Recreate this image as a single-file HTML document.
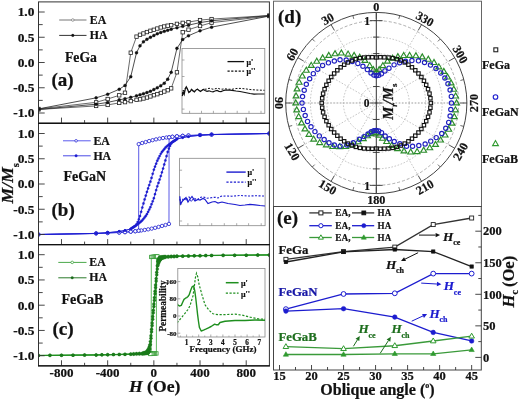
<!DOCTYPE html>
<html><head><meta charset="utf-8"><title>Figure</title>
<style>html,body{margin:0;padding:0;background:#fff;width:520px;height:399px;overflow:hidden}</style>
</head><body>
<svg width="520" height="399" viewBox="0 0 520 399" style="display:block">
<style>text{stroke-width:0.22px;stroke-linejoin:round}text[fill="#111"]{stroke:#111}</style>
<rect x="0" y="0" width="520" height="399" fill="#fff"/>
<clipPath id="cp0"><rect x="38.5" y="1.9" width="230.9" height="121.2"/></clipPath>
<clipPath id="cp1"><rect x="38.5" y="123.4" width="230.9" height="121.2"/></clipPath>
<clipPath id="cp2"><rect x="38.5" y="244.6" width="230.9" height="121.2"/></clipPath>
<g clip-path="url(#cp0)">
<polyline fill="none" stroke="#444" stroke-width="0.8"  points="38.4,108.96 96.12,102.34 107.67,99.01 119.22,95.33 124.99,92.75 130.76,52.7 136.53,36.64 140,34.78 143.46,33.46 146.92,32.05 150.39,30.79 153.85,29.78 157.31,28.56 160.78,27.45 164.24,26.49 167.7,25.69 171.17,25.18 176.94,23.87 182.71,22.86 188.48,22.1 200.03,20.08 211.57,19.07 269.3,15.53"/><polyline fill="none" stroke="#444" stroke-width="0.8"  points="269.3,16.04 211.57,22.66 200.03,25.99 188.48,29.67 182.71,32.25 176.94,72.3 171.17,88.36 167.7,90.22 164.24,91.54 160.78,92.95 157.31,94.21 153.85,95.22 150.39,96.44 146.92,97.55 143.46,98.51 140,99.31 136.53,99.82 130.76,101.13 124.99,102.14 119.22,102.9 107.67,104.92 96.12,105.93 38.4,109.47"/><rect x="36.7" y="107.26" width="3.4" height="3.4" fill="#fff" stroke="#222" stroke-width="0.8"/><rect x="94.42" y="100.64" width="3.4" height="3.4" fill="#fff" stroke="#222" stroke-width="0.8"/><rect x="105.97" y="97.31" width="3.4" height="3.4" fill="#fff" stroke="#222" stroke-width="0.8"/><rect x="117.52" y="93.62" width="3.4" height="3.4" fill="#fff" stroke="#222" stroke-width="0.8"/><rect x="123.29" y="91.05" width="3.4" height="3.4" fill="#fff" stroke="#222" stroke-width="0.8"/><rect x="129.06" y="51" width="3.4" height="3.4" fill="#fff" stroke="#222" stroke-width="0.8"/><rect x="134.83" y="34.94" width="3.4" height="3.4" fill="#fff" stroke="#222" stroke-width="0.8"/><rect x="138.3" y="33.08" width="3.4" height="3.4" fill="#fff" stroke="#222" stroke-width="0.8"/><rect x="141.76" y="31.76" width="3.4" height="3.4" fill="#fff" stroke="#222" stroke-width="0.8"/><rect x="145.22" y="30.35" width="3.4" height="3.4" fill="#fff" stroke="#222" stroke-width="0.8"/><rect x="148.69" y="29.09" width="3.4" height="3.4" fill="#fff" stroke="#222" stroke-width="0.8"/><rect x="152.15" y="28.08" width="3.4" height="3.4" fill="#fff" stroke="#222" stroke-width="0.8"/><rect x="155.61" y="26.86" width="3.4" height="3.4" fill="#fff" stroke="#222" stroke-width="0.8"/><rect x="159.08" y="25.75" width="3.4" height="3.4" fill="#fff" stroke="#222" stroke-width="0.8"/><rect x="162.54" y="24.79" width="3.4" height="3.4" fill="#fff" stroke="#222" stroke-width="0.8"/><rect x="166" y="23.99" width="3.4" height="3.4" fill="#fff" stroke="#222" stroke-width="0.8"/><rect x="169.47" y="23.48" width="3.4" height="3.4" fill="#fff" stroke="#222" stroke-width="0.8"/><rect x="175.24" y="22.17" width="3.4" height="3.4" fill="#fff" stroke="#222" stroke-width="0.8"/><rect x="181.01" y="21.16" width="3.4" height="3.4" fill="#fff" stroke="#222" stroke-width="0.8"/><rect x="186.78" y="20.4" width="3.4" height="3.4" fill="#fff" stroke="#222" stroke-width="0.8"/><rect x="198.33" y="18.38" width="3.4" height="3.4" fill="#fff" stroke="#222" stroke-width="0.8"/><rect x="209.88" y="17.37" width="3.4" height="3.4" fill="#fff" stroke="#222" stroke-width="0.8"/><rect x="267.6" y="13.83" width="3.4" height="3.4" fill="#fff" stroke="#222" stroke-width="0.8"/><rect x="267.6" y="14.34" width="3.4" height="3.4" fill="#fff" stroke="#222" stroke-width="0.8"/><rect x="209.88" y="20.96" width="3.4" height="3.4" fill="#fff" stroke="#222" stroke-width="0.8"/><rect x="198.33" y="24.29" width="3.4" height="3.4" fill="#fff" stroke="#222" stroke-width="0.8"/><rect x="186.78" y="27.97" width="3.4" height="3.4" fill="#fff" stroke="#222" stroke-width="0.8"/><rect x="181.01" y="30.55" width="3.4" height="3.4" fill="#fff" stroke="#222" stroke-width="0.8"/><rect x="175.24" y="70.6" width="3.4" height="3.4" fill="#fff" stroke="#222" stroke-width="0.8"/><rect x="169.47" y="86.66" width="3.4" height="3.4" fill="#fff" stroke="#222" stroke-width="0.8"/><rect x="166" y="88.52" width="3.4" height="3.4" fill="#fff" stroke="#222" stroke-width="0.8"/><rect x="162.54" y="89.84" width="3.4" height="3.4" fill="#fff" stroke="#222" stroke-width="0.8"/><rect x="159.08" y="91.25" width="3.4" height="3.4" fill="#fff" stroke="#222" stroke-width="0.8"/><rect x="155.61" y="92.51" width="3.4" height="3.4" fill="#fff" stroke="#222" stroke-width="0.8"/><rect x="152.15" y="93.52" width="3.4" height="3.4" fill="#fff" stroke="#222" stroke-width="0.8"/><rect x="148.69" y="94.74" width="3.4" height="3.4" fill="#fff" stroke="#222" stroke-width="0.8"/><rect x="145.22" y="95.85" width="3.4" height="3.4" fill="#fff" stroke="#222" stroke-width="0.8"/><rect x="141.76" y="96.81" width="3.4" height="3.4" fill="#fff" stroke="#222" stroke-width="0.8"/><rect x="138.3" y="97.61" width="3.4" height="3.4" fill="#fff" stroke="#222" stroke-width="0.8"/><rect x="134.83" y="98.12" width="3.4" height="3.4" fill="#fff" stroke="#222" stroke-width="0.8"/><rect x="129.06" y="99.43" width="3.4" height="3.4" fill="#fff" stroke="#222" stroke-width="0.8"/><rect x="123.29" y="100.44" width="3.4" height="3.4" fill="#fff" stroke="#222" stroke-width="0.8"/><rect x="117.52" y="101.2" width="3.4" height="3.4" fill="#fff" stroke="#222" stroke-width="0.8"/><rect x="105.97" y="103.22" width="3.4" height="3.4" fill="#fff" stroke="#222" stroke-width="0.8"/><rect x="94.42" y="104.23" width="3.4" height="3.4" fill="#fff" stroke="#222" stroke-width="0.8"/><rect x="36.7" y="107.77" width="3.4" height="3.4" fill="#fff" stroke="#222" stroke-width="0.8"/>
<polyline fill="none" stroke="#222" stroke-width="0.8"  points="38.4,108.96 96.12,97.85 107.67,94.21 119.22,89.27 124.99,85.48 130.76,76.64 136.53,52.7 140,45.84 143.46,41.8 146.92,39.27 150.39,37.25 153.85,35.48 157.31,33.72 160.78,32.45 164.24,31.34 167.7,30.28 171.17,29.17 176.94,27.66 182.71,26.29 188.48,25.13 200.03,22.6 211.57,20.79 269.3,15.53"/><polyline fill="none" stroke="#222" stroke-width="0.8"  points="269.3,16.04 211.57,27.15 200.03,30.79 188.48,35.73 182.71,39.52 176.94,48.36 171.17,72.3 167.7,79.16 164.24,83.2 160.78,85.73 157.31,87.75 153.85,89.52 150.39,91.28 146.92,92.55 143.46,93.66 140,94.72 136.53,95.83 130.76,97.34 124.99,98.71 119.22,99.87 107.67,102.4 96.12,104.21 38.4,109.47"/><circle cx="38.4" cy="108.96" r="1.5" fill="#111" stroke="#111" stroke-width="0.3"/><circle cx="96.12" cy="97.85" r="1.5" fill="#111" stroke="#111" stroke-width="0.3"/><circle cx="107.67" cy="94.21" r="1.5" fill="#111" stroke="#111" stroke-width="0.3"/><circle cx="119.22" cy="89.27" r="1.5" fill="#111" stroke="#111" stroke-width="0.3"/><circle cx="124.99" cy="85.48" r="1.5" fill="#111" stroke="#111" stroke-width="0.3"/><circle cx="130.76" cy="76.64" r="1.5" fill="#111" stroke="#111" stroke-width="0.3"/><circle cx="136.53" cy="52.7" r="1.5" fill="#111" stroke="#111" stroke-width="0.3"/><circle cx="140" cy="45.84" r="1.5" fill="#111" stroke="#111" stroke-width="0.3"/><circle cx="143.46" cy="41.8" r="1.5" fill="#111" stroke="#111" stroke-width="0.3"/><circle cx="146.92" cy="39.27" r="1.5" fill="#111" stroke="#111" stroke-width="0.3"/><circle cx="150.39" cy="37.25" r="1.5" fill="#111" stroke="#111" stroke-width="0.3"/><circle cx="153.85" cy="35.48" r="1.5" fill="#111" stroke="#111" stroke-width="0.3"/><circle cx="157.31" cy="33.72" r="1.5" fill="#111" stroke="#111" stroke-width="0.3"/><circle cx="160.78" cy="32.45" r="1.5" fill="#111" stroke="#111" stroke-width="0.3"/><circle cx="164.24" cy="31.34" r="1.5" fill="#111" stroke="#111" stroke-width="0.3"/><circle cx="167.7" cy="30.28" r="1.5" fill="#111" stroke="#111" stroke-width="0.3"/><circle cx="171.17" cy="29.17" r="1.5" fill="#111" stroke="#111" stroke-width="0.3"/><circle cx="176.94" cy="27.66" r="1.5" fill="#111" stroke="#111" stroke-width="0.3"/><circle cx="182.71" cy="26.29" r="1.5" fill="#111" stroke="#111" stroke-width="0.3"/><circle cx="188.48" cy="25.13" r="1.5" fill="#111" stroke="#111" stroke-width="0.3"/><circle cx="200.03" cy="22.6" r="1.5" fill="#111" stroke="#111" stroke-width="0.3"/><circle cx="211.57" cy="20.79" r="1.5" fill="#111" stroke="#111" stroke-width="0.3"/><circle cx="269.3" cy="15.53" r="1.5" fill="#111" stroke="#111" stroke-width="0.3"/><circle cx="269.3" cy="16.04" r="1.5" fill="#111" stroke="#111" stroke-width="0.3"/><circle cx="211.57" cy="27.15" r="1.5" fill="#111" stroke="#111" stroke-width="0.3"/><circle cx="200.03" cy="30.79" r="1.5" fill="#111" stroke="#111" stroke-width="0.3"/><circle cx="188.48" cy="35.73" r="1.5" fill="#111" stroke="#111" stroke-width="0.3"/><circle cx="182.71" cy="39.52" r="1.5" fill="#111" stroke="#111" stroke-width="0.3"/><circle cx="176.94" cy="48.36" r="1.5" fill="#111" stroke="#111" stroke-width="0.3"/><circle cx="171.17" cy="72.3" r="1.5" fill="#111" stroke="#111" stroke-width="0.3"/><circle cx="167.7" cy="79.16" r="1.5" fill="#111" stroke="#111" stroke-width="0.3"/><circle cx="164.24" cy="83.2" r="1.5" fill="#111" stroke="#111" stroke-width="0.3"/><circle cx="160.78" cy="85.73" r="1.5" fill="#111" stroke="#111" stroke-width="0.3"/><circle cx="157.31" cy="87.75" r="1.5" fill="#111" stroke="#111" stroke-width="0.3"/><circle cx="153.85" cy="89.52" r="1.5" fill="#111" stroke="#111" stroke-width="0.3"/><circle cx="150.39" cy="91.28" r="1.5" fill="#111" stroke="#111" stroke-width="0.3"/><circle cx="146.92" cy="92.55" r="1.5" fill="#111" stroke="#111" stroke-width="0.3"/><circle cx="143.46" cy="93.66" r="1.5" fill="#111" stroke="#111" stroke-width="0.3"/><circle cx="140" cy="94.72" r="1.5" fill="#111" stroke="#111" stroke-width="0.3"/><circle cx="136.53" cy="95.83" r="1.5" fill="#111" stroke="#111" stroke-width="0.3"/><circle cx="130.76" cy="97.34" r="1.5" fill="#111" stroke="#111" stroke-width="0.3"/><circle cx="124.99" cy="98.71" r="1.5" fill="#111" stroke="#111" stroke-width="0.3"/><circle cx="119.22" cy="99.87" r="1.5" fill="#111" stroke="#111" stroke-width="0.3"/><circle cx="107.67" cy="102.4" r="1.5" fill="#111" stroke="#111" stroke-width="0.3"/><circle cx="96.12" cy="104.21" r="1.5" fill="#111" stroke="#111" stroke-width="0.3"/><circle cx="38.4" cy="109.47" r="1.5" fill="#111" stroke="#111" stroke-width="0.3"/>
</g>
<g clip-path="url(#cp1)">
<polyline fill="none" stroke="#3030e0" stroke-width="0.8"  points="38.4,234.5 96.12,233.39 107.67,232.99 119.22,232.48 124.99,232.13 130.76,231.72 135.26,231.22 138.61,230.71 138.73,144.1 142.19,142.99 145.65,142.09 149.12,141.07 152.58,140.17 156.04,139.36 159.51,138.65 162.97,138.05 166.43,137.54 169.09,137.29 172.44,136.78 176.94,136.28 182.71,135.87 188.48,135.52 200.03,135.01 211.57,134.61 269.3,133.5"/><polyline fill="none" stroke="#3030e0" stroke-width="0.8"  points="269.3,133.5 211.57,134.61 200.03,135.01 188.48,135.52 182.71,135.87 176.94,136.28 172.44,136.78 169.09,137.29 168.97,223.9 165.51,225.01 162.05,225.91 158.58,226.93 155.12,227.83 151.66,228.64 148.19,229.35 144.73,229.95 141.27,230.46 138.61,230.71 135.26,231.22 130.76,231.72 124.99,232.13 119.22,232.48 107.67,232.99 96.12,233.39 38.4,234.5"/><circle cx="38.4" cy="234.5" r="1.7" fill="#fff" stroke="#1c1ccf" stroke-width="0.8"/><circle cx="96.12" cy="233.39" r="1.7" fill="#fff" stroke="#1c1ccf" stroke-width="0.8"/><circle cx="107.67" cy="232.99" r="1.7" fill="#fff" stroke="#1c1ccf" stroke-width="0.8"/><circle cx="119.22" cy="232.48" r="1.7" fill="#fff" stroke="#1c1ccf" stroke-width="0.8"/><circle cx="124.99" cy="232.13" r="1.7" fill="#fff" stroke="#1c1ccf" stroke-width="0.8"/><circle cx="130.76" cy="231.72" r="1.7" fill="#fff" stroke="#1c1ccf" stroke-width="0.8"/><circle cx="135.26" cy="231.22" r="1.7" fill="#fff" stroke="#1c1ccf" stroke-width="0.8"/><circle cx="138.61" cy="230.71" r="1.7" fill="#fff" stroke="#1c1ccf" stroke-width="0.8"/><circle cx="138.73" cy="144.1" r="1.7" fill="#fff" stroke="#1c1ccf" stroke-width="0.8"/><circle cx="142.19" cy="142.99" r="1.7" fill="#fff" stroke="#1c1ccf" stroke-width="0.8"/><circle cx="145.65" cy="142.09" r="1.7" fill="#fff" stroke="#1c1ccf" stroke-width="0.8"/><circle cx="149.12" cy="141.07" r="1.7" fill="#fff" stroke="#1c1ccf" stroke-width="0.8"/><circle cx="152.58" cy="140.17" r="1.7" fill="#fff" stroke="#1c1ccf" stroke-width="0.8"/><circle cx="156.04" cy="139.36" r="1.7" fill="#fff" stroke="#1c1ccf" stroke-width="0.8"/><circle cx="159.51" cy="138.65" r="1.7" fill="#fff" stroke="#1c1ccf" stroke-width="0.8"/><circle cx="162.97" cy="138.05" r="1.7" fill="#fff" stroke="#1c1ccf" stroke-width="0.8"/><circle cx="166.43" cy="137.54" r="1.7" fill="#fff" stroke="#1c1ccf" stroke-width="0.8"/><circle cx="169.09" cy="137.29" r="1.7" fill="#fff" stroke="#1c1ccf" stroke-width="0.8"/><circle cx="172.44" cy="136.78" r="1.7" fill="#fff" stroke="#1c1ccf" stroke-width="0.8"/><circle cx="176.94" cy="136.28" r="1.7" fill="#fff" stroke="#1c1ccf" stroke-width="0.8"/><circle cx="182.71" cy="135.87" r="1.7" fill="#fff" stroke="#1c1ccf" stroke-width="0.8"/><circle cx="188.48" cy="135.52" r="1.7" fill="#fff" stroke="#1c1ccf" stroke-width="0.8"/><circle cx="200.03" cy="135.01" r="1.7" fill="#fff" stroke="#1c1ccf" stroke-width="0.8"/><circle cx="211.57" cy="134.61" r="1.7" fill="#fff" stroke="#1c1ccf" stroke-width="0.8"/><circle cx="269.3" cy="133.5" r="1.7" fill="#fff" stroke="#1c1ccf" stroke-width="0.8"/><circle cx="269.3" cy="133.5" r="1.7" fill="#fff" stroke="#1c1ccf" stroke-width="0.8"/><circle cx="211.57" cy="134.61" r="1.7" fill="#fff" stroke="#1c1ccf" stroke-width="0.8"/><circle cx="200.03" cy="135.01" r="1.7" fill="#fff" stroke="#1c1ccf" stroke-width="0.8"/><circle cx="188.48" cy="135.52" r="1.7" fill="#fff" stroke="#1c1ccf" stroke-width="0.8"/><circle cx="182.71" cy="135.87" r="1.7" fill="#fff" stroke="#1c1ccf" stroke-width="0.8"/><circle cx="176.94" cy="136.28" r="1.7" fill="#fff" stroke="#1c1ccf" stroke-width="0.8"/><circle cx="172.44" cy="136.78" r="1.7" fill="#fff" stroke="#1c1ccf" stroke-width="0.8"/><circle cx="169.09" cy="137.29" r="1.7" fill="#fff" stroke="#1c1ccf" stroke-width="0.8"/><circle cx="168.97" cy="223.9" r="1.7" fill="#fff" stroke="#1c1ccf" stroke-width="0.8"/><circle cx="165.51" cy="225.01" r="1.7" fill="#fff" stroke="#1c1ccf" stroke-width="0.8"/><circle cx="162.05" cy="225.91" r="1.7" fill="#fff" stroke="#1c1ccf" stroke-width="0.8"/><circle cx="158.58" cy="226.93" r="1.7" fill="#fff" stroke="#1c1ccf" stroke-width="0.8"/><circle cx="155.12" cy="227.83" r="1.7" fill="#fff" stroke="#1c1ccf" stroke-width="0.8"/><circle cx="151.66" cy="228.64" r="1.7" fill="#fff" stroke="#1c1ccf" stroke-width="0.8"/><circle cx="148.19" cy="229.35" r="1.7" fill="#fff" stroke="#1c1ccf" stroke-width="0.8"/><circle cx="144.73" cy="229.95" r="1.7" fill="#fff" stroke="#1c1ccf" stroke-width="0.8"/><circle cx="141.27" cy="230.46" r="1.7" fill="#fff" stroke="#1c1ccf" stroke-width="0.8"/><circle cx="138.61" cy="230.71" r="1.7" fill="#fff" stroke="#1c1ccf" stroke-width="0.8"/><circle cx="135.26" cy="231.22" r="1.7" fill="#fff" stroke="#1c1ccf" stroke-width="0.8"/><circle cx="130.76" cy="231.72" r="1.7" fill="#fff" stroke="#1c1ccf" stroke-width="0.8"/><circle cx="124.99" cy="232.13" r="1.7" fill="#fff" stroke="#1c1ccf" stroke-width="0.8"/><circle cx="119.22" cy="232.48" r="1.7" fill="#fff" stroke="#1c1ccf" stroke-width="0.8"/><circle cx="107.67" cy="232.99" r="1.7" fill="#fff" stroke="#1c1ccf" stroke-width="0.8"/><circle cx="96.12" cy="233.39" r="1.7" fill="#fff" stroke="#1c1ccf" stroke-width="0.8"/><circle cx="38.4" cy="234.5" r="1.7" fill="#fff" stroke="#1c1ccf" stroke-width="0.8"/>
<polyline fill="none" stroke="#1c1ccf" stroke-width="0.8"  points="38.4,234.5 96.12,233.49 107.67,232.73 119.22,231.47 124.99,230.46 130.76,228.94 131.91,228.16 133.07,227.37 134.22,226.59 135.38,225.8 136.53,224.33 137.69,222.11 138.84,219.44 140,216.1 141.15,211.78 142.31,207.53 143.46,203.49 144.61,199.45 145.77,195.66 146.92,191.93 148.08,188.39 149.23,185.06 150.39,181.72 151.54,177.88 152.7,173.82 153.85,169.76 155,166.69 156.16,163.73 157.31,160.76 158.47,158.41 159.62,156.12 160.78,153.83 161.93,151.98 163.09,150.55 164.24,149.13 165.39,147.7 166.55,146.58 167.7,145.65 168.86,144.72 170.01,143.8 171.17,142.87 172.32,142.06 173.48,141.31 174.63,140.56 175.79,139.81 176.94,139.06 182.71,137.54 188.48,136.53 200.03,135.27 211.57,134.51 269.3,133.5"/><polyline fill="none" stroke="#1c1ccf" stroke-width="0.8"  points="269.3,133.5 211.57,134.51 200.03,135.27 188.48,136.53 182.71,137.54 176.94,139.06 175.79,139.84 174.63,140.63 173.48,141.41 172.32,142.2 171.17,143.67 170.01,145.89 168.86,148.56 167.7,151.9 166.55,156.22 165.39,160.47 164.24,164.51 163.09,168.55 161.93,172.34 160.78,176.07 159.62,179.61 158.47,182.94 157.31,186.28 156.16,190.12 155,194.18 153.85,198.24 152.7,201.31 151.54,204.27 150.39,207.24 149.23,209.59 148.08,211.88 146.92,214.17 145.77,216.02 144.61,217.45 143.46,218.87 142.31,220.3 141.15,221.42 140,222.35 138.84,223.28 137.69,224.2 136.53,225.13 135.38,225.94 134.22,226.69 133.07,227.44 131.91,228.19 130.76,228.94 124.99,230.46 119.22,231.47 107.67,232.73 96.12,233.49 38.4,234.5"/><circle cx="38.4" cy="234.5" r="1.15" fill="#1c1ccf" stroke="#1c1ccf" stroke-width="0.3"/><circle cx="96.12" cy="233.49" r="1.15" fill="#1c1ccf" stroke="#1c1ccf" stroke-width="0.3"/><circle cx="107.67" cy="232.73" r="1.15" fill="#1c1ccf" stroke="#1c1ccf" stroke-width="0.3"/><circle cx="119.22" cy="231.47" r="1.15" fill="#1c1ccf" stroke="#1c1ccf" stroke-width="0.3"/><circle cx="124.99" cy="230.46" r="1.15" fill="#1c1ccf" stroke="#1c1ccf" stroke-width="0.3"/><circle cx="130.76" cy="228.94" r="1.15" fill="#1c1ccf" stroke="#1c1ccf" stroke-width="0.3"/><circle cx="131.91" cy="228.16" r="1.15" fill="#1c1ccf" stroke="#1c1ccf" stroke-width="0.3"/><circle cx="133.07" cy="227.37" r="1.15" fill="#1c1ccf" stroke="#1c1ccf" stroke-width="0.3"/><circle cx="134.22" cy="226.59" r="1.15" fill="#1c1ccf" stroke="#1c1ccf" stroke-width="0.3"/><circle cx="135.38" cy="225.8" r="1.15" fill="#1c1ccf" stroke="#1c1ccf" stroke-width="0.3"/><circle cx="136.53" cy="224.33" r="1.15" fill="#1c1ccf" stroke="#1c1ccf" stroke-width="0.3"/><circle cx="137.69" cy="222.11" r="1.15" fill="#1c1ccf" stroke="#1c1ccf" stroke-width="0.3"/><circle cx="138.84" cy="219.44" r="1.15" fill="#1c1ccf" stroke="#1c1ccf" stroke-width="0.3"/><circle cx="140" cy="216.1" r="1.15" fill="#1c1ccf" stroke="#1c1ccf" stroke-width="0.3"/><circle cx="141.15" cy="211.78" r="1.15" fill="#1c1ccf" stroke="#1c1ccf" stroke-width="0.3"/><circle cx="142.31" cy="207.53" r="1.15" fill="#1c1ccf" stroke="#1c1ccf" stroke-width="0.3"/><circle cx="143.46" cy="203.49" r="1.15" fill="#1c1ccf" stroke="#1c1ccf" stroke-width="0.3"/><circle cx="144.61" cy="199.45" r="1.15" fill="#1c1ccf" stroke="#1c1ccf" stroke-width="0.3"/><circle cx="145.77" cy="195.66" r="1.15" fill="#1c1ccf" stroke="#1c1ccf" stroke-width="0.3"/><circle cx="146.92" cy="191.93" r="1.15" fill="#1c1ccf" stroke="#1c1ccf" stroke-width="0.3"/><circle cx="148.08" cy="188.39" r="1.15" fill="#1c1ccf" stroke="#1c1ccf" stroke-width="0.3"/><circle cx="149.23" cy="185.06" r="1.15" fill="#1c1ccf" stroke="#1c1ccf" stroke-width="0.3"/><circle cx="150.39" cy="181.72" r="1.15" fill="#1c1ccf" stroke="#1c1ccf" stroke-width="0.3"/><circle cx="151.54" cy="177.88" r="1.15" fill="#1c1ccf" stroke="#1c1ccf" stroke-width="0.3"/><circle cx="152.7" cy="173.82" r="1.15" fill="#1c1ccf" stroke="#1c1ccf" stroke-width="0.3"/><circle cx="153.85" cy="169.76" r="1.15" fill="#1c1ccf" stroke="#1c1ccf" stroke-width="0.3"/><circle cx="155" cy="166.69" r="1.15" fill="#1c1ccf" stroke="#1c1ccf" stroke-width="0.3"/><circle cx="156.16" cy="163.73" r="1.15" fill="#1c1ccf" stroke="#1c1ccf" stroke-width="0.3"/><circle cx="157.31" cy="160.76" r="1.15" fill="#1c1ccf" stroke="#1c1ccf" stroke-width="0.3"/><circle cx="158.47" cy="158.41" r="1.15" fill="#1c1ccf" stroke="#1c1ccf" stroke-width="0.3"/><circle cx="159.62" cy="156.12" r="1.15" fill="#1c1ccf" stroke="#1c1ccf" stroke-width="0.3"/><circle cx="160.78" cy="153.83" r="1.15" fill="#1c1ccf" stroke="#1c1ccf" stroke-width="0.3"/><circle cx="161.93" cy="151.98" r="1.15" fill="#1c1ccf" stroke="#1c1ccf" stroke-width="0.3"/><circle cx="163.09" cy="150.55" r="1.15" fill="#1c1ccf" stroke="#1c1ccf" stroke-width="0.3"/><circle cx="164.24" cy="149.13" r="1.15" fill="#1c1ccf" stroke="#1c1ccf" stroke-width="0.3"/><circle cx="165.39" cy="147.7" r="1.15" fill="#1c1ccf" stroke="#1c1ccf" stroke-width="0.3"/><circle cx="166.55" cy="146.58" r="1.15" fill="#1c1ccf" stroke="#1c1ccf" stroke-width="0.3"/><circle cx="167.7" cy="145.65" r="1.15" fill="#1c1ccf" stroke="#1c1ccf" stroke-width="0.3"/><circle cx="168.86" cy="144.72" r="1.15" fill="#1c1ccf" stroke="#1c1ccf" stroke-width="0.3"/><circle cx="170.01" cy="143.8" r="1.15" fill="#1c1ccf" stroke="#1c1ccf" stroke-width="0.3"/><circle cx="171.17" cy="142.87" r="1.15" fill="#1c1ccf" stroke="#1c1ccf" stroke-width="0.3"/><circle cx="172.32" cy="142.06" r="1.15" fill="#1c1ccf" stroke="#1c1ccf" stroke-width="0.3"/><circle cx="173.48" cy="141.31" r="1.15" fill="#1c1ccf" stroke="#1c1ccf" stroke-width="0.3"/><circle cx="174.63" cy="140.56" r="1.15" fill="#1c1ccf" stroke="#1c1ccf" stroke-width="0.3"/><circle cx="175.79" cy="139.81" r="1.15" fill="#1c1ccf" stroke="#1c1ccf" stroke-width="0.3"/><circle cx="176.94" cy="139.06" r="1.15" fill="#1c1ccf" stroke="#1c1ccf" stroke-width="0.3"/><circle cx="182.71" cy="137.54" r="1.15" fill="#1c1ccf" stroke="#1c1ccf" stroke-width="0.3"/><circle cx="188.48" cy="136.53" r="1.15" fill="#1c1ccf" stroke="#1c1ccf" stroke-width="0.3"/><circle cx="200.03" cy="135.27" r="1.15" fill="#1c1ccf" stroke="#1c1ccf" stroke-width="0.3"/><circle cx="211.57" cy="134.51" r="1.15" fill="#1c1ccf" stroke="#1c1ccf" stroke-width="0.3"/><circle cx="269.3" cy="133.5" r="1.15" fill="#1c1ccf" stroke="#1c1ccf" stroke-width="0.3"/><circle cx="269.3" cy="133.5" r="1.15" fill="#1c1ccf" stroke="#1c1ccf" stroke-width="0.3"/><circle cx="211.57" cy="134.51" r="1.15" fill="#1c1ccf" stroke="#1c1ccf" stroke-width="0.3"/><circle cx="200.03" cy="135.27" r="1.15" fill="#1c1ccf" stroke="#1c1ccf" stroke-width="0.3"/><circle cx="188.48" cy="136.53" r="1.15" fill="#1c1ccf" stroke="#1c1ccf" stroke-width="0.3"/><circle cx="182.71" cy="137.54" r="1.15" fill="#1c1ccf" stroke="#1c1ccf" stroke-width="0.3"/><circle cx="176.94" cy="139.06" r="1.15" fill="#1c1ccf" stroke="#1c1ccf" stroke-width="0.3"/><circle cx="175.79" cy="139.84" r="1.15" fill="#1c1ccf" stroke="#1c1ccf" stroke-width="0.3"/><circle cx="174.63" cy="140.63" r="1.15" fill="#1c1ccf" stroke="#1c1ccf" stroke-width="0.3"/><circle cx="173.48" cy="141.41" r="1.15" fill="#1c1ccf" stroke="#1c1ccf" stroke-width="0.3"/><circle cx="172.32" cy="142.2" r="1.15" fill="#1c1ccf" stroke="#1c1ccf" stroke-width="0.3"/><circle cx="171.17" cy="143.67" r="1.15" fill="#1c1ccf" stroke="#1c1ccf" stroke-width="0.3"/><circle cx="170.01" cy="145.89" r="1.15" fill="#1c1ccf" stroke="#1c1ccf" stroke-width="0.3"/><circle cx="168.86" cy="148.56" r="1.15" fill="#1c1ccf" stroke="#1c1ccf" stroke-width="0.3"/><circle cx="167.7" cy="151.9" r="1.15" fill="#1c1ccf" stroke="#1c1ccf" stroke-width="0.3"/><circle cx="166.55" cy="156.22" r="1.15" fill="#1c1ccf" stroke="#1c1ccf" stroke-width="0.3"/><circle cx="165.39" cy="160.47" r="1.15" fill="#1c1ccf" stroke="#1c1ccf" stroke-width="0.3"/><circle cx="164.24" cy="164.51" r="1.15" fill="#1c1ccf" stroke="#1c1ccf" stroke-width="0.3"/><circle cx="163.09" cy="168.55" r="1.15" fill="#1c1ccf" stroke="#1c1ccf" stroke-width="0.3"/><circle cx="161.93" cy="172.34" r="1.15" fill="#1c1ccf" stroke="#1c1ccf" stroke-width="0.3"/><circle cx="160.78" cy="176.07" r="1.15" fill="#1c1ccf" stroke="#1c1ccf" stroke-width="0.3"/><circle cx="159.62" cy="179.61" r="1.15" fill="#1c1ccf" stroke="#1c1ccf" stroke-width="0.3"/><circle cx="158.47" cy="182.94" r="1.15" fill="#1c1ccf" stroke="#1c1ccf" stroke-width="0.3"/><circle cx="157.31" cy="186.28" r="1.15" fill="#1c1ccf" stroke="#1c1ccf" stroke-width="0.3"/><circle cx="156.16" cy="190.12" r="1.15" fill="#1c1ccf" stroke="#1c1ccf" stroke-width="0.3"/><circle cx="155" cy="194.18" r="1.15" fill="#1c1ccf" stroke="#1c1ccf" stroke-width="0.3"/><circle cx="153.85" cy="198.24" r="1.15" fill="#1c1ccf" stroke="#1c1ccf" stroke-width="0.3"/><circle cx="152.7" cy="201.31" r="1.15" fill="#1c1ccf" stroke="#1c1ccf" stroke-width="0.3"/><circle cx="151.54" cy="204.27" r="1.15" fill="#1c1ccf" stroke="#1c1ccf" stroke-width="0.3"/><circle cx="150.39" cy="207.24" r="1.15" fill="#1c1ccf" stroke="#1c1ccf" stroke-width="0.3"/><circle cx="149.23" cy="209.59" r="1.15" fill="#1c1ccf" stroke="#1c1ccf" stroke-width="0.3"/><circle cx="148.08" cy="211.88" r="1.15" fill="#1c1ccf" stroke="#1c1ccf" stroke-width="0.3"/><circle cx="146.92" cy="214.17" r="1.15" fill="#1c1ccf" stroke="#1c1ccf" stroke-width="0.3"/><circle cx="145.77" cy="216.02" r="1.15" fill="#1c1ccf" stroke="#1c1ccf" stroke-width="0.3"/><circle cx="144.61" cy="217.45" r="1.15" fill="#1c1ccf" stroke="#1c1ccf" stroke-width="0.3"/><circle cx="143.46" cy="218.87" r="1.15" fill="#1c1ccf" stroke="#1c1ccf" stroke-width="0.3"/><circle cx="142.31" cy="220.3" r="1.15" fill="#1c1ccf" stroke="#1c1ccf" stroke-width="0.3"/><circle cx="141.15" cy="221.42" r="1.15" fill="#1c1ccf" stroke="#1c1ccf" stroke-width="0.3"/><circle cx="140" cy="222.35" r="1.15" fill="#1c1ccf" stroke="#1c1ccf" stroke-width="0.3"/><circle cx="138.84" cy="223.28" r="1.15" fill="#1c1ccf" stroke="#1c1ccf" stroke-width="0.3"/><circle cx="137.69" cy="224.2" r="1.15" fill="#1c1ccf" stroke="#1c1ccf" stroke-width="0.3"/><circle cx="136.53" cy="225.13" r="1.15" fill="#1c1ccf" stroke="#1c1ccf" stroke-width="0.3"/><circle cx="135.38" cy="225.94" r="1.15" fill="#1c1ccf" stroke="#1c1ccf" stroke-width="0.3"/><circle cx="134.22" cy="226.69" r="1.15" fill="#1c1ccf" stroke="#1c1ccf" stroke-width="0.3"/><circle cx="133.07" cy="227.44" r="1.15" fill="#1c1ccf" stroke="#1c1ccf" stroke-width="0.3"/><circle cx="131.91" cy="228.19" r="1.15" fill="#1c1ccf" stroke="#1c1ccf" stroke-width="0.3"/><circle cx="130.76" cy="228.94" r="1.15" fill="#1c1ccf" stroke="#1c1ccf" stroke-width="0.3"/><circle cx="124.99" cy="230.46" r="1.15" fill="#1c1ccf" stroke="#1c1ccf" stroke-width="0.3"/><circle cx="119.22" cy="231.47" r="1.15" fill="#1c1ccf" stroke="#1c1ccf" stroke-width="0.3"/><circle cx="107.67" cy="232.73" r="1.15" fill="#1c1ccf" stroke="#1c1ccf" stroke-width="0.3"/><circle cx="96.12" cy="233.49" r="1.15" fill="#1c1ccf" stroke="#1c1ccf" stroke-width="0.3"/><circle cx="38.4" cy="234.5" r="1.15" fill="#1c1ccf" stroke="#1c1ccf" stroke-width="0.3"/>
</g>
<g clip-path="url(#cp2)">
<polyline fill="none" stroke="#3aa83a" stroke-width="0.8"  points="38.4,355.45 49.94,355.35 61.49,355.19 73.03,355.09 84.58,354.94 96.12,354.79 101.9,354.69 107.67,354.59 113.44,354.44 119.22,354.29 124.99,354.19 130.76,354.03 136.53,353.83 142.31,353.68 146.92,353.58 150.39,353.48 151.19,353.43 151.31,256.97 152.7,256.82 153.85,256.72 155,256.62 156.16,256.52 157.31,256.42 160.78,256.32 165.39,256.21 171.17,256.06 176.94,255.96 182.71,255.86 188.48,255.71 194.26,255.61 200.03,255.51 205.8,255.41 211.57,255.31 223.12,255.2 234.66,255.1 246.21,255 257.75,254.9 269.3,254.8"/><polyline fill="none" stroke="#3aa83a" stroke-width="0.8"  points="269.3,254.95 257.75,255.05 246.21,255.2 234.66,255.31 223.12,255.46 211.57,255.61 205.8,255.71 200.03,255.81 194.26,255.96 188.48,256.11 182.71,256.21 176.94,256.37 171.17,256.57 165.39,256.72 160.78,256.82 157.31,256.92 156.51,256.97 156.39,353.43 155,353.58 153.85,353.68 152.7,353.78 151.54,353.88 150.39,353.98 146.92,354.08 142.31,354.19 136.53,354.34 130.76,354.44 124.99,354.54 119.22,354.69 113.44,354.79 107.67,354.89 101.9,354.99 96.12,355.09 84.58,355.19 73.03,355.3 61.49,355.4 49.94,355.5 38.4,355.6"/>
<rect x="148.69" y="351.78" width="3.4" height="3.4" fill="#fff" stroke="#2f9a2f" stroke-width="0.8"/>
<rect x="155.61" y="255.22" width="3.4" height="3.4" fill="#fff" stroke="#2f9a2f" stroke-width="0.8"/>
<rect x="149.49" y="351.73" width="3.4" height="3.4" fill="#fff" stroke="#2f9a2f" stroke-width="0.8"/>
<rect x="154.81" y="255.27" width="3.4" height="3.4" fill="#fff" stroke="#2f9a2f" stroke-width="0.8"/>
<rect x="149.61" y="255.27" width="3.4" height="3.4" fill="#fff" stroke="#2f9a2f" stroke-width="0.8"/>
<rect x="154.69" y="351.73" width="3.4" height="3.4" fill="#fff" stroke="#2f9a2f" stroke-width="0.8"/>
<rect x="151" y="255.12" width="3.4" height="3.4" fill="#fff" stroke="#2f9a2f" stroke-width="0.8"/>
<rect x="153.3" y="351.88" width="3.4" height="3.4" fill="#fff" stroke="#2f9a2f" stroke-width="0.8"/>
<rect x="152.15" y="255.02" width="3.4" height="3.4" fill="#fff" stroke="#2f9a2f" stroke-width="0.8"/>
<rect x="152.15" y="351.98" width="3.4" height="3.4" fill="#fff" stroke="#2f9a2f" stroke-width="0.8"/>
<rect x="153.3" y="254.92" width="3.4" height="3.4" fill="#fff" stroke="#2f9a2f" stroke-width="0.8"/>
<rect x="151" y="352.08" width="3.4" height="3.4" fill="#fff" stroke="#2f9a2f" stroke-width="0.8"/>
<rect x="154.46" y="254.82" width="3.4" height="3.4" fill="#fff" stroke="#2f9a2f" stroke-width="0.8"/>
<rect x="149.84" y="352.18" width="3.4" height="3.4" fill="#fff" stroke="#2f9a2f" stroke-width="0.8"/>
<rect x="155.61" y="254.72" width="3.4" height="3.4" fill="#fff" stroke="#2f9a2f" stroke-width="0.8"/>
<rect x="148.69" y="352.28" width="3.4" height="3.4" fill="#fff" stroke="#2f9a2f" stroke-width="0.8"/>
<polyline fill="none" stroke="#1f8f1f" stroke-width="0.9"  points="38.4,355.45 49.94,355.35 61.49,355.25 73.03,355.14 84.58,355.04 96.12,354.94 101.9,354.82 107.67,354.69 113.44,354.56 119.22,354.44 124.99,354.19 130.76,353.93 133.65,353.74 136.53,353.55 139.42,353.36 142.31,353.17 143.46,352.84 144.61,352.5 145.77,352.16 146.92,351.15 147.5,350.65 148.08,349.64 148.65,348.63 149.23,346.95 149.81,344.9 150.39,341.4 150.96,335.63 151.54,329.28 152.12,322.94 152.7,316.6 153.27,310.25 153.85,303.91 154.43,297.57 155,291.22 155.58,284.88 156.16,278.54 156.74,272.19 157.31,265.85 157.89,261.35 158.47,259.25 159.05,257.98 159.62,257.6 160.2,257.23 160.78,257.09 161.93,256.82 163.09,256.7 164.24,256.59 165.39,256.47 168.28,256.38 171.17,256.29 174.05,256.2 176.94,256.11 182.71,256 188.48,255.9 194.26,255.79 200.03,255.68 205.8,255.57 211.57,255.46 223.12,255.36 234.66,255.26 246.21,255.15 257.75,255.05 269.3,254.95"/><polyline fill="none" stroke="#1f8f1f" stroke-width="0.9"  points="269.3,254.95 257.75,255.05 246.21,255.15 234.66,255.26 223.12,255.36 211.57,255.46 205.8,255.58 200.03,255.71 194.26,255.84 188.48,255.96 182.71,256.21 176.94,256.47 174.05,256.66 171.17,256.85 168.28,257.04 165.39,257.23 164.24,257.56 163.09,257.9 161.93,258.24 160.78,259.25 160.2,259.75 159.62,260.76 159.05,261.77 158.47,263.45 157.89,265.5 157.31,269 156.74,274.77 156.16,281.12 155.58,287.46 155,293.8 154.43,300.15 153.85,306.49 153.27,312.83 152.7,319.18 152.12,325.52 151.54,331.86 150.96,338.21 150.39,344.55 149.81,349.05 149.23,351.15 148.65,352.42 148.08,352.8 147.5,353.17 146.92,353.31 145.77,353.58 144.61,353.7 143.46,353.81 142.31,353.93 139.42,354.02 136.53,354.11 133.65,354.2 130.76,354.29 124.99,354.4 119.22,354.5 113.44,354.61 107.67,354.72 101.9,354.83 96.12,354.94 84.58,355.04 73.03,355.14 61.49,355.25 49.94,355.35 38.4,355.45"/><circle cx="38.4" cy="355.45" r="1.5" fill="#1a7a1a" stroke="#1a7a1a" stroke-width="0.3"/><circle cx="49.94" cy="355.35" r="1.5" fill="#1a7a1a" stroke="#1a7a1a" stroke-width="0.3"/><circle cx="61.49" cy="355.25" r="1.5" fill="#1a7a1a" stroke="#1a7a1a" stroke-width="0.3"/><circle cx="73.03" cy="355.14" r="1.5" fill="#1a7a1a" stroke="#1a7a1a" stroke-width="0.3"/><circle cx="84.58" cy="355.04" r="1.5" fill="#1a7a1a" stroke="#1a7a1a" stroke-width="0.3"/><circle cx="96.12" cy="354.94" r="1.5" fill="#1a7a1a" stroke="#1a7a1a" stroke-width="0.3"/><circle cx="101.9" cy="354.82" r="1.5" fill="#1a7a1a" stroke="#1a7a1a" stroke-width="0.3"/><circle cx="107.67" cy="354.69" r="1.5" fill="#1a7a1a" stroke="#1a7a1a" stroke-width="0.3"/><circle cx="113.44" cy="354.56" r="1.5" fill="#1a7a1a" stroke="#1a7a1a" stroke-width="0.3"/><circle cx="119.22" cy="354.44" r="1.5" fill="#1a7a1a" stroke="#1a7a1a" stroke-width="0.3"/><circle cx="124.99" cy="354.19" r="1.5" fill="#1a7a1a" stroke="#1a7a1a" stroke-width="0.3"/><circle cx="130.76" cy="353.93" r="1.5" fill="#1a7a1a" stroke="#1a7a1a" stroke-width="0.3"/><circle cx="133.65" cy="353.74" r="1.5" fill="#1a7a1a" stroke="#1a7a1a" stroke-width="0.3"/><circle cx="136.53" cy="353.55" r="1.5" fill="#1a7a1a" stroke="#1a7a1a" stroke-width="0.3"/><circle cx="139.42" cy="353.36" r="1.5" fill="#1a7a1a" stroke="#1a7a1a" stroke-width="0.3"/><circle cx="142.31" cy="353.17" r="1.5" fill="#1a7a1a" stroke="#1a7a1a" stroke-width="0.3"/><circle cx="143.46" cy="352.84" r="1.5" fill="#1a7a1a" stroke="#1a7a1a" stroke-width="0.3"/><circle cx="144.61" cy="352.5" r="1.5" fill="#1a7a1a" stroke="#1a7a1a" stroke-width="0.3"/><circle cx="145.77" cy="352.16" r="1.5" fill="#1a7a1a" stroke="#1a7a1a" stroke-width="0.3"/><circle cx="146.92" cy="351.15" r="1.5" fill="#1a7a1a" stroke="#1a7a1a" stroke-width="0.3"/><circle cx="147.5" cy="350.65" r="1.5" fill="#1a7a1a" stroke="#1a7a1a" stroke-width="0.3"/><circle cx="148.08" cy="349.64" r="1.5" fill="#1a7a1a" stroke="#1a7a1a" stroke-width="0.3"/><circle cx="148.65" cy="348.63" r="1.5" fill="#1a7a1a" stroke="#1a7a1a" stroke-width="0.3"/><circle cx="149.23" cy="346.95" r="1.5" fill="#1a7a1a" stroke="#1a7a1a" stroke-width="0.3"/><circle cx="149.81" cy="344.9" r="1.5" fill="#1a7a1a" stroke="#1a7a1a" stroke-width="0.3"/><circle cx="150.39" cy="341.4" r="1.5" fill="#1a7a1a" stroke="#1a7a1a" stroke-width="0.3"/><circle cx="150.96" cy="335.63" r="1.5" fill="#1a7a1a" stroke="#1a7a1a" stroke-width="0.3"/><circle cx="151.54" cy="329.28" r="1.5" fill="#1a7a1a" stroke="#1a7a1a" stroke-width="0.3"/><circle cx="152.12" cy="322.94" r="1.5" fill="#1a7a1a" stroke="#1a7a1a" stroke-width="0.3"/><circle cx="152.7" cy="316.6" r="1.5" fill="#1a7a1a" stroke="#1a7a1a" stroke-width="0.3"/><circle cx="153.27" cy="310.25" r="1.5" fill="#1a7a1a" stroke="#1a7a1a" stroke-width="0.3"/><circle cx="153.85" cy="303.91" r="1.5" fill="#1a7a1a" stroke="#1a7a1a" stroke-width="0.3"/><circle cx="154.43" cy="297.57" r="1.5" fill="#1a7a1a" stroke="#1a7a1a" stroke-width="0.3"/><circle cx="155" cy="291.22" r="1.5" fill="#1a7a1a" stroke="#1a7a1a" stroke-width="0.3"/><circle cx="155.58" cy="284.88" r="1.5" fill="#1a7a1a" stroke="#1a7a1a" stroke-width="0.3"/><circle cx="156.16" cy="278.54" r="1.5" fill="#1a7a1a" stroke="#1a7a1a" stroke-width="0.3"/><circle cx="156.74" cy="272.19" r="1.5" fill="#1a7a1a" stroke="#1a7a1a" stroke-width="0.3"/><circle cx="157.31" cy="265.85" r="1.5" fill="#1a7a1a" stroke="#1a7a1a" stroke-width="0.3"/><circle cx="157.89" cy="261.35" r="1.5" fill="#1a7a1a" stroke="#1a7a1a" stroke-width="0.3"/><circle cx="158.47" cy="259.25" r="1.5" fill="#1a7a1a" stroke="#1a7a1a" stroke-width="0.3"/><circle cx="159.05" cy="257.98" r="1.5" fill="#1a7a1a" stroke="#1a7a1a" stroke-width="0.3"/><circle cx="159.62" cy="257.6" r="1.5" fill="#1a7a1a" stroke="#1a7a1a" stroke-width="0.3"/><circle cx="160.2" cy="257.23" r="1.5" fill="#1a7a1a" stroke="#1a7a1a" stroke-width="0.3"/><circle cx="160.78" cy="257.09" r="1.5" fill="#1a7a1a" stroke="#1a7a1a" stroke-width="0.3"/><circle cx="161.93" cy="256.82" r="1.5" fill="#1a7a1a" stroke="#1a7a1a" stroke-width="0.3"/><circle cx="163.09" cy="256.7" r="1.5" fill="#1a7a1a" stroke="#1a7a1a" stroke-width="0.3"/><circle cx="164.24" cy="256.59" r="1.5" fill="#1a7a1a" stroke="#1a7a1a" stroke-width="0.3"/><circle cx="165.39" cy="256.47" r="1.5" fill="#1a7a1a" stroke="#1a7a1a" stroke-width="0.3"/><circle cx="168.28" cy="256.38" r="1.5" fill="#1a7a1a" stroke="#1a7a1a" stroke-width="0.3"/><circle cx="171.17" cy="256.29" r="1.5" fill="#1a7a1a" stroke="#1a7a1a" stroke-width="0.3"/><circle cx="174.05" cy="256.2" r="1.5" fill="#1a7a1a" stroke="#1a7a1a" stroke-width="0.3"/><circle cx="176.94" cy="256.11" r="1.5" fill="#1a7a1a" stroke="#1a7a1a" stroke-width="0.3"/><circle cx="182.71" cy="256" r="1.5" fill="#1a7a1a" stroke="#1a7a1a" stroke-width="0.3"/><circle cx="188.48" cy="255.9" r="1.5" fill="#1a7a1a" stroke="#1a7a1a" stroke-width="0.3"/><circle cx="194.26" cy="255.79" r="1.5" fill="#1a7a1a" stroke="#1a7a1a" stroke-width="0.3"/><circle cx="200.03" cy="255.68" r="1.5" fill="#1a7a1a" stroke="#1a7a1a" stroke-width="0.3"/><circle cx="205.8" cy="255.57" r="1.5" fill="#1a7a1a" stroke="#1a7a1a" stroke-width="0.3"/><circle cx="211.57" cy="255.46" r="1.5" fill="#1a7a1a" stroke="#1a7a1a" stroke-width="0.3"/><circle cx="223.12" cy="255.36" r="1.5" fill="#1a7a1a" stroke="#1a7a1a" stroke-width="0.3"/><circle cx="234.66" cy="255.26" r="1.5" fill="#1a7a1a" stroke="#1a7a1a" stroke-width="0.3"/><circle cx="246.21" cy="255.15" r="1.5" fill="#1a7a1a" stroke="#1a7a1a" stroke-width="0.3"/><circle cx="257.75" cy="255.05" r="1.5" fill="#1a7a1a" stroke="#1a7a1a" stroke-width="0.3"/><circle cx="269.3" cy="254.95" r="1.5" fill="#1a7a1a" stroke="#1a7a1a" stroke-width="0.3"/><circle cx="269.3" cy="254.95" r="1.5" fill="#1a7a1a" stroke="#1a7a1a" stroke-width="0.3"/><circle cx="257.75" cy="255.05" r="1.5" fill="#1a7a1a" stroke="#1a7a1a" stroke-width="0.3"/><circle cx="246.21" cy="255.15" r="1.5" fill="#1a7a1a" stroke="#1a7a1a" stroke-width="0.3"/><circle cx="234.66" cy="255.26" r="1.5" fill="#1a7a1a" stroke="#1a7a1a" stroke-width="0.3"/><circle cx="223.12" cy="255.36" r="1.5" fill="#1a7a1a" stroke="#1a7a1a" stroke-width="0.3"/><circle cx="211.57" cy="255.46" r="1.5" fill="#1a7a1a" stroke="#1a7a1a" stroke-width="0.3"/><circle cx="205.8" cy="255.58" r="1.5" fill="#1a7a1a" stroke="#1a7a1a" stroke-width="0.3"/><circle cx="200.03" cy="255.71" r="1.5" fill="#1a7a1a" stroke="#1a7a1a" stroke-width="0.3"/><circle cx="194.26" cy="255.84" r="1.5" fill="#1a7a1a" stroke="#1a7a1a" stroke-width="0.3"/><circle cx="188.48" cy="255.96" r="1.5" fill="#1a7a1a" stroke="#1a7a1a" stroke-width="0.3"/><circle cx="182.71" cy="256.21" r="1.5" fill="#1a7a1a" stroke="#1a7a1a" stroke-width="0.3"/><circle cx="176.94" cy="256.47" r="1.5" fill="#1a7a1a" stroke="#1a7a1a" stroke-width="0.3"/><circle cx="174.05" cy="256.66" r="1.5" fill="#1a7a1a" stroke="#1a7a1a" stroke-width="0.3"/><circle cx="171.17" cy="256.85" r="1.5" fill="#1a7a1a" stroke="#1a7a1a" stroke-width="0.3"/><circle cx="168.28" cy="257.04" r="1.5" fill="#1a7a1a" stroke="#1a7a1a" stroke-width="0.3"/><circle cx="165.39" cy="257.23" r="1.5" fill="#1a7a1a" stroke="#1a7a1a" stroke-width="0.3"/><circle cx="164.24" cy="257.56" r="1.5" fill="#1a7a1a" stroke="#1a7a1a" stroke-width="0.3"/><circle cx="163.09" cy="257.9" r="1.5" fill="#1a7a1a" stroke="#1a7a1a" stroke-width="0.3"/><circle cx="161.93" cy="258.24" r="1.5" fill="#1a7a1a" stroke="#1a7a1a" stroke-width="0.3"/><circle cx="160.78" cy="259.25" r="1.5" fill="#1a7a1a" stroke="#1a7a1a" stroke-width="0.3"/><circle cx="160.2" cy="259.75" r="1.5" fill="#1a7a1a" stroke="#1a7a1a" stroke-width="0.3"/><circle cx="159.62" cy="260.76" r="1.5" fill="#1a7a1a" stroke="#1a7a1a" stroke-width="0.3"/><circle cx="159.05" cy="261.77" r="1.5" fill="#1a7a1a" stroke="#1a7a1a" stroke-width="0.3"/><circle cx="158.47" cy="263.45" r="1.5" fill="#1a7a1a" stroke="#1a7a1a" stroke-width="0.3"/><circle cx="157.89" cy="265.5" r="1.5" fill="#1a7a1a" stroke="#1a7a1a" stroke-width="0.3"/><circle cx="157.31" cy="269" r="1.5" fill="#1a7a1a" stroke="#1a7a1a" stroke-width="0.3"/><circle cx="156.74" cy="274.77" r="1.5" fill="#1a7a1a" stroke="#1a7a1a" stroke-width="0.3"/><circle cx="156.16" cy="281.12" r="1.5" fill="#1a7a1a" stroke="#1a7a1a" stroke-width="0.3"/><circle cx="155.58" cy="287.46" r="1.5" fill="#1a7a1a" stroke="#1a7a1a" stroke-width="0.3"/><circle cx="155" cy="293.8" r="1.5" fill="#1a7a1a" stroke="#1a7a1a" stroke-width="0.3"/><circle cx="154.43" cy="300.15" r="1.5" fill="#1a7a1a" stroke="#1a7a1a" stroke-width="0.3"/><circle cx="153.85" cy="306.49" r="1.5" fill="#1a7a1a" stroke="#1a7a1a" stroke-width="0.3"/><circle cx="153.27" cy="312.83" r="1.5" fill="#1a7a1a" stroke="#1a7a1a" stroke-width="0.3"/><circle cx="152.7" cy="319.18" r="1.5" fill="#1a7a1a" stroke="#1a7a1a" stroke-width="0.3"/><circle cx="152.12" cy="325.52" r="1.5" fill="#1a7a1a" stroke="#1a7a1a" stroke-width="0.3"/><circle cx="151.54" cy="331.86" r="1.5" fill="#1a7a1a" stroke="#1a7a1a" stroke-width="0.3"/><circle cx="150.96" cy="338.21" r="1.5" fill="#1a7a1a" stroke="#1a7a1a" stroke-width="0.3"/><circle cx="150.39" cy="344.55" r="1.5" fill="#1a7a1a" stroke="#1a7a1a" stroke-width="0.3"/><circle cx="149.81" cy="349.05" r="1.5" fill="#1a7a1a" stroke="#1a7a1a" stroke-width="0.3"/><circle cx="149.23" cy="351.15" r="1.5" fill="#1a7a1a" stroke="#1a7a1a" stroke-width="0.3"/><circle cx="148.65" cy="352.42" r="1.5" fill="#1a7a1a" stroke="#1a7a1a" stroke-width="0.3"/><circle cx="148.08" cy="352.8" r="1.5" fill="#1a7a1a" stroke="#1a7a1a" stroke-width="0.3"/><circle cx="147.5" cy="353.17" r="1.5" fill="#1a7a1a" stroke="#1a7a1a" stroke-width="0.3"/><circle cx="146.92" cy="353.31" r="1.5" fill="#1a7a1a" stroke="#1a7a1a" stroke-width="0.3"/><circle cx="145.77" cy="353.58" r="1.5" fill="#1a7a1a" stroke="#1a7a1a" stroke-width="0.3"/><circle cx="144.61" cy="353.7" r="1.5" fill="#1a7a1a" stroke="#1a7a1a" stroke-width="0.3"/><circle cx="143.46" cy="353.81" r="1.5" fill="#1a7a1a" stroke="#1a7a1a" stroke-width="0.3"/><circle cx="142.31" cy="353.93" r="1.5" fill="#1a7a1a" stroke="#1a7a1a" stroke-width="0.3"/><circle cx="139.42" cy="354.02" r="1.5" fill="#1a7a1a" stroke="#1a7a1a" stroke-width="0.3"/><circle cx="136.53" cy="354.11" r="1.5" fill="#1a7a1a" stroke="#1a7a1a" stroke-width="0.3"/><circle cx="133.65" cy="354.2" r="1.5" fill="#1a7a1a" stroke="#1a7a1a" stroke-width="0.3"/><circle cx="130.76" cy="354.29" r="1.5" fill="#1a7a1a" stroke="#1a7a1a" stroke-width="0.3"/><circle cx="124.99" cy="354.4" r="1.5" fill="#1a7a1a" stroke="#1a7a1a" stroke-width="0.3"/><circle cx="119.22" cy="354.5" r="1.5" fill="#1a7a1a" stroke="#1a7a1a" stroke-width="0.3"/><circle cx="113.44" cy="354.61" r="1.5" fill="#1a7a1a" stroke="#1a7a1a" stroke-width="0.3"/><circle cx="107.67" cy="354.72" r="1.5" fill="#1a7a1a" stroke="#1a7a1a" stroke-width="0.3"/><circle cx="101.9" cy="354.83" r="1.5" fill="#1a7a1a" stroke="#1a7a1a" stroke-width="0.3"/><circle cx="96.12" cy="354.94" r="1.5" fill="#1a7a1a" stroke="#1a7a1a" stroke-width="0.3"/><circle cx="84.58" cy="355.04" r="1.5" fill="#1a7a1a" stroke="#1a7a1a" stroke-width="0.3"/><circle cx="73.03" cy="355.14" r="1.5" fill="#1a7a1a" stroke="#1a7a1a" stroke-width="0.3"/><circle cx="61.49" cy="355.25" r="1.5" fill="#1a7a1a" stroke="#1a7a1a" stroke-width="0.3"/><circle cx="49.94" cy="355.35" r="1.5" fill="#1a7a1a" stroke="#1a7a1a" stroke-width="0.3"/><circle cx="38.4" cy="355.45" r="1.5" fill="#1a7a1a" stroke="#1a7a1a" stroke-width="0.3"/>
</g>
<rect x="182" y="48.4" width="82.8" height="64.9" fill="#fff" stroke="#888" stroke-width="0.8"/>
<line x1="182" y1="60" x2="184.5" y2="60" stroke="#888" stroke-width="0.7"/>
<line x1="182" y1="76.5" x2="184.5" y2="76.5" stroke="#888" stroke-width="0.7"/>
<line x1="182" y1="92.7" x2="184.5" y2="92.7" stroke="#888" stroke-width="0.7"/>
<line x1="182" y1="109.1" x2="184.5" y2="109.1" stroke="#888" stroke-width="0.7"/>
<line x1="189.6" y1="113.3" x2="189.6" y2="110.8" stroke="#888" stroke-width="0.7"/>
<line x1="201.5" y1="113.3" x2="201.5" y2="110.8" stroke="#888" stroke-width="0.7"/>
<line x1="213.4" y1="113.3" x2="213.4" y2="110.8" stroke="#888" stroke-width="0.7"/>
<line x1="225.3" y1="113.3" x2="225.3" y2="110.8" stroke="#888" stroke-width="0.7"/>
<line x1="237.2" y1="113.3" x2="237.2" y2="110.8" stroke="#888" stroke-width="0.7"/>
<line x1="249" y1="113.3" x2="249" y2="110.8" stroke="#888" stroke-width="0.7"/>
<line x1="261" y1="113.3" x2="261" y2="110.8" stroke="#888" stroke-width="0.7"/>
<polyline fill="none" stroke="#111" stroke-width="1.2"  points="182.3,96 183.2,92 184.2,94.5 185.3,89 186.3,86.8 187.5,89 188.8,92.5 190.2,91.5 191.5,89.5 193,91 194.5,92 196,90 197.5,89.3 199,90.5 200.5,91.5 202,90.3 203.5,89.5 205,90.5 207,91.3 209,90.8 211,91.5 213,91.8 215,91 217,90.5 219,91.3 221,91.6 223,90.8 225,90.2 228,90 232,90.3 236,91 240,91.5 245,92.5 250,93.5 254,94.2 258,94 264.5,94"/>
<polyline fill="none" stroke="#111" stroke-width="1.0" stroke-dasharray="2,1.5" points="182.3,94 183.2,90 184.2,92.5 185.3,88 186.5,87.3 187.8,90.5 189,92 190.5,90 192,89 193.5,90.8 195,91.3 196.5,89.5 198,89 199.5,90.5 201,91 202.5,89.8 204,88.8 206,89.3 208,88.5 210,88.3 212,89 214,89.3 216,88.5 218,88.3 220,89 222,89.2 225,88.8 228,89.2 232,89.3 236,88.5 240,88.4 245,88.8 250,89.5 256,90 264.5,90.3"/>
<line x1="227.5" y1="61.6" x2="244.1" y2="61.6" stroke="#111" stroke-width="1.3"/>
<line x1="227.5" y1="71.1" x2="244.1" y2="71.1" stroke="#111" stroke-width="1.1" stroke-dasharray="2.2,1.5"/>
<text x="246.5" y="64.5" font-family="'Liberation Serif','Times New Roman',serif" font-weight="bold" font-size="8" fill="#111">&#956;'</text>
<text x="246.5" y="74" font-family="'Liberation Serif','Times New Roman',serif" font-weight="bold" font-size="8" fill="#111">&#956;''</text>
<rect x="179.6" y="158.3" width="85.5" height="67.4" fill="#fff" stroke="#888" stroke-width="0.8"/>
<line x1="179.6" y1="170.2" x2="182.1" y2="170.2" stroke="#888" stroke-width="0.7"/>
<line x1="179.6" y1="187.4" x2="182.1" y2="187.4" stroke="#888" stroke-width="0.7"/>
<line x1="179.6" y1="204.3" x2="182.1" y2="204.3" stroke="#888" stroke-width="0.7"/>
<line x1="179.6" y1="221" x2="182.1" y2="221" stroke="#888" stroke-width="0.7"/>
<line x1="187.9" y1="225.7" x2="187.9" y2="223.2" stroke="#888" stroke-width="0.7"/>
<line x1="199.8" y1="225.7" x2="199.8" y2="223.2" stroke="#888" stroke-width="0.7"/>
<line x1="211.7" y1="225.7" x2="211.7" y2="223.2" stroke="#888" stroke-width="0.7"/>
<line x1="224.3" y1="225.7" x2="224.3" y2="223.2" stroke="#888" stroke-width="0.7"/>
<line x1="236.7" y1="225.7" x2="236.7" y2="223.2" stroke="#888" stroke-width="0.7"/>
<line x1="248.6" y1="225.7" x2="248.6" y2="223.2" stroke="#888" stroke-width="0.7"/>
<line x1="261.2" y1="225.7" x2="261.2" y2="223.2" stroke="#888" stroke-width="0.7"/>
<polyline fill="none" stroke="#1c1ccf" stroke-width="1.2"  points="179.8,196.2 180.5,204 183,200.5 186,197.5 188,202 190,199 192,196.5 195,201 198,199.5 200,200 203,198.5 205,199.5 208,203.5 212,202 215,201.5 218,203 222,202 228,203.5 235,204.5 240,205.5 245,205 250,204.3 255,204.8 260,205.5 265,206"/>
<polyline fill="none" stroke="#1c1ccf" stroke-width="1.1" stroke-dasharray="2,1.5" points="179.8,199 181,203 183.5,198 186.5,200.5 189,197 191.5,201.5 194,198 197,200 200,197.5 203,196.8 207,198.2 211,197.8 215,197.2 218,198 221,196.2 226,196 232,196.2 240,195.5 248,196 256,195.8 265,196"/>
<line x1="226.4" y1="172.1" x2="245.7" y2="172.1" stroke="#1c1ccf" stroke-width="1.4"/>
<line x1="226.4" y1="182.1" x2="245.7" y2="182.1" stroke="#1c1ccf" stroke-width="1.2" stroke-dasharray="2.2,1.5"/>
<text x="247.5" y="175" font-family="'Liberation Serif','Times New Roman',serif" font-weight="bold" font-size="8" fill="#111">&#956;'</text>
<text x="247.5" y="185" font-family="'Liberation Serif','Times New Roman',serif" font-weight="bold" font-size="8" fill="#111">&#956;''</text>
<rect x="177.8" y="268.5" width="87.2" height="68.5" fill="#fff" stroke="#888" stroke-width="0.8"/>
<line x1="186.6" y1="337" x2="186.6" y2="334.5" stroke="#888" stroke-width="0.7"/>
<line x1="180.55" y1="337" x2="180.55" y2="335.5" stroke="#888" stroke-width="0.6"/>
<text x="186.6" y="344.6" text-anchor="middle" font-family="'Liberation Serif','Times New Roman',serif" font-weight="bold" font-size="7.2" fill="#111">1</text>
<line x1="198.7" y1="337" x2="198.7" y2="334.5" stroke="#888" stroke-width="0.7"/>
<line x1="192.65" y1="337" x2="192.65" y2="335.5" stroke="#888" stroke-width="0.6"/>
<text x="198.7" y="344.6" text-anchor="middle" font-family="'Liberation Serif','Times New Roman',serif" font-weight="bold" font-size="7.2" fill="#111">2</text>
<line x1="210.8" y1="337" x2="210.8" y2="334.5" stroke="#888" stroke-width="0.7"/>
<line x1="204.75" y1="337" x2="204.75" y2="335.5" stroke="#888" stroke-width="0.6"/>
<text x="210.8" y="344.6" text-anchor="middle" font-family="'Liberation Serif','Times New Roman',serif" font-weight="bold" font-size="7.2" fill="#111">3</text>
<line x1="222.9" y1="337" x2="222.9" y2="334.5" stroke="#888" stroke-width="0.7"/>
<line x1="216.85" y1="337" x2="216.85" y2="335.5" stroke="#888" stroke-width="0.6"/>
<text x="222.9" y="344.6" text-anchor="middle" font-family="'Liberation Serif','Times New Roman',serif" font-weight="bold" font-size="7.2" fill="#111">4</text>
<line x1="235" y1="337" x2="235" y2="334.5" stroke="#888" stroke-width="0.7"/>
<line x1="228.95" y1="337" x2="228.95" y2="335.5" stroke="#888" stroke-width="0.6"/>
<text x="235" y="344.6" text-anchor="middle" font-family="'Liberation Serif','Times New Roman',serif" font-weight="bold" font-size="7.2" fill="#111">5</text>
<line x1="247.1" y1="337" x2="247.1" y2="334.5" stroke="#888" stroke-width="0.7"/>
<line x1="241.05" y1="337" x2="241.05" y2="335.5" stroke="#888" stroke-width="0.6"/>
<text x="247.1" y="344.6" text-anchor="middle" font-family="'Liberation Serif','Times New Roman',serif" font-weight="bold" font-size="7.2" fill="#111">6</text>
<line x1="259.2" y1="337" x2="259.2" y2="334.5" stroke="#888" stroke-width="0.7"/>
<line x1="253.15" y1="337" x2="253.15" y2="335.5" stroke="#888" stroke-width="0.6"/>
<text x="259.2" y="344.6" text-anchor="middle" font-family="'Liberation Serif','Times New Roman',serif" font-weight="bold" font-size="7.2" fill="#111">7</text>
<line x1="177.8" y1="281.6" x2="180.3" y2="281.6" stroke="#888" stroke-width="0.7"/>
<text x="176.6" y="284" text-anchor="end" font-family="'Liberation Serif','Times New Roman',serif" font-weight="bold" font-size="7" fill="#111">160</text>
<line x1="177.8" y1="298.8" x2="180.3" y2="298.8" stroke="#888" stroke-width="0.7"/>
<text x="176.6" y="301.2" text-anchor="end" font-family="'Liberation Serif','Times New Roman',serif" font-weight="bold" font-size="7" fill="#111">80</text>
<line x1="177.8" y1="316" x2="180.3" y2="316" stroke="#888" stroke-width="0.7"/>
<text x="176.6" y="318.4" text-anchor="end" font-family="'Liberation Serif','Times New Roman',serif" font-weight="bold" font-size="7" fill="#111">0</text>
<line x1="177.8" y1="333.2" x2="180.3" y2="333.2" stroke="#888" stroke-width="0.7"/>
<text x="176.6" y="335.6" text-anchor="end" font-family="'Liberation Serif','Times New Roman',serif" font-weight="bold" font-size="7" fill="#111">-80</text>
<clipPath id="cpi"><rect x="177.8" y="268.5" width="87.2" height="68.5"/></clipPath>
<g clip-path="url(#cpi)">
<polyline fill="none" stroke="#1f8f1f" stroke-width="1.4" stroke-linejoin="round" points="177.1,303.5 177.7,304.8 179.5,306 181.3,305.4 182.8,302 184,299.4 185.5,298.2 186.7,297.6 188,296.5 189.1,294.9 190.6,290.5 192.1,286.8 193.6,285.9 194.8,291 195.8,298.5 196.7,306.5 197.6,314.7 198.5,321.5 199.4,327.4 201.2,331 203.5,330.2 205.7,329.2 208.5,327.8 211.1,326.5 214.7,324.1 216.5,324.8 218.3,324.7 220,322.5 225,321.2 235,320.5 245,320.5 255,320 265,320.3"/>
<polyline fill="none" stroke="#1f8f1f" stroke-width="1.2" stroke-dasharray="2.2,1.6" points="177.1,323 178.5,321 181,318.3 185,313.3 188,309.5 190,305.7 193,295.8 194.5,285 195.5,277 196.5,273.2 197.8,277 199,284 202,294.9 205,304.8 209,310.2 213,313.8 218,314.7 225,314.6 235,314.2 243,315.3 250,317.1 255,318.2 258,318.9 265,319.2"/>
</g>
<line x1="225.8" y1="282.7" x2="238.6" y2="282.7" stroke="#1f8f1f" stroke-width="1.5"/>
<line x1="225.8" y1="293.1" x2="238.6" y2="293.1" stroke="#1f8f1f" stroke-width="1.2" stroke-dasharray="2.2,1.5"/>
<text x="241" y="286" font-family="'Liberation Serif','Times New Roman',serif" font-weight="bold" font-size="8" fill="#111">&#956;'</text>
<text x="241" y="296.5" font-family="'Liberation Serif','Times New Roman',serif" font-weight="bold" font-size="8" fill="#111">&#956;''</text>
<text x="223" y="351.8" text-anchor="middle" font-family="'Liberation Serif','Times New Roman',serif" font-weight="bold" font-size="9" fill="#111">Frequency (GHz)</text>
<text transform="translate(166.4,306) rotate(-90)" text-anchor="middle" font-family="'Liberation Serif','Times New Roman',serif" font-weight="bold" font-size="9.3" fill="#111">Permeability</text>
<rect x="38.5" y="1.9" width="230.9" height="121.2" fill="none" stroke="#333" stroke-width="1"/>
<line x1="38.5" y1="12" x2="44.7" y2="12" stroke="#333" stroke-width="0.9"/>
<text x="34.4" y="16.4" text-anchor="end" font-family="'Liberation Serif','Times New Roman',serif" font-weight="bold" font-size="13.4" fill="#111">1.0</text>
<line x1="38.5" y1="37.25" x2="44.7" y2="37.25" stroke="#333" stroke-width="0.9"/>
<text x="34.4" y="41.65" text-anchor="end" font-family="'Liberation Serif','Times New Roman',serif" font-weight="bold" font-size="13.4" fill="#111">0.5</text>
<line x1="38.5" y1="62.5" x2="44.7" y2="62.5" stroke="#333" stroke-width="0.9"/>
<text x="34.4" y="66.9" text-anchor="end" font-family="'Liberation Serif','Times New Roman',serif" font-weight="bold" font-size="13.4" fill="#111">0.0</text>
<line x1="38.5" y1="87.75" x2="44.7" y2="87.75" stroke="#333" stroke-width="0.9"/>
<text x="34.4" y="92.15" text-anchor="end" font-family="'Liberation Serif','Times New Roman',serif" font-weight="bold" font-size="13.4" fill="#111">-0.5</text>
<line x1="38.5" y1="113" x2="44.7" y2="113" stroke="#333" stroke-width="0.9"/>
<text x="34.4" y="117.4" text-anchor="end" font-family="'Liberation Serif','Times New Roman',serif" font-weight="bold" font-size="13.4" fill="#111">-1.0</text>
<line x1="38.5" y1="24.62" x2="42.7" y2="24.62" stroke="#333" stroke-width="0.9"/>
<line x1="38.5" y1="49.88" x2="42.7" y2="49.88" stroke="#333" stroke-width="0.9"/>
<line x1="38.5" y1="75.12" x2="42.7" y2="75.12" stroke="#333" stroke-width="0.9"/>
<line x1="38.5" y1="100.38" x2="42.7" y2="100.38" stroke="#333" stroke-width="0.9"/>
<line x1="61.49" y1="123.1" x2="61.49" y2="117.6" stroke="#333" stroke-width="0.9"/>
<line x1="107.67" y1="123.1" x2="107.67" y2="117.6" stroke="#333" stroke-width="0.9"/>
<line x1="153.85" y1="123.1" x2="153.85" y2="117.6" stroke="#333" stroke-width="0.9"/>
<line x1="200.03" y1="123.1" x2="200.03" y2="117.6" stroke="#333" stroke-width="0.9"/>
<line x1="246.21" y1="123.1" x2="246.21" y2="117.6" stroke="#333" stroke-width="0.9"/>
<line x1="84.58" y1="123.1" x2="84.58" y2="120.1" stroke="#333" stroke-width="0.9"/>
<line x1="130.76" y1="123.1" x2="130.76" y2="120.1" stroke="#333" stroke-width="0.9"/>
<line x1="176.94" y1="123.1" x2="176.94" y2="120.1" stroke="#333" stroke-width="0.9"/>
<line x1="223.12" y1="123.1" x2="223.12" y2="120.1" stroke="#333" stroke-width="0.9"/>
<rect x="38.5" y="123.4" width="230.9" height="121.2" fill="none" stroke="#333" stroke-width="1"/>
<line x1="38.5" y1="133.5" x2="44.7" y2="133.5" stroke="#333" stroke-width="0.9"/>
<text x="34.4" y="137.9" text-anchor="end" font-family="'Liberation Serif','Times New Roman',serif" font-weight="bold" font-size="13.4" fill="#111">1.0</text>
<line x1="38.5" y1="158.75" x2="44.7" y2="158.75" stroke="#333" stroke-width="0.9"/>
<text x="34.4" y="163.15" text-anchor="end" font-family="'Liberation Serif','Times New Roman',serif" font-weight="bold" font-size="13.4" fill="#111">0.5</text>
<line x1="38.5" y1="184" x2="44.7" y2="184" stroke="#333" stroke-width="0.9"/>
<text x="34.4" y="188.4" text-anchor="end" font-family="'Liberation Serif','Times New Roman',serif" font-weight="bold" font-size="13.4" fill="#111">0.0</text>
<line x1="38.5" y1="209.25" x2="44.7" y2="209.25" stroke="#333" stroke-width="0.9"/>
<text x="34.4" y="213.65" text-anchor="end" font-family="'Liberation Serif','Times New Roman',serif" font-weight="bold" font-size="13.4" fill="#111">-0.5</text>
<line x1="38.5" y1="234.5" x2="44.7" y2="234.5" stroke="#333" stroke-width="0.9"/>
<text x="34.4" y="238.9" text-anchor="end" font-family="'Liberation Serif','Times New Roman',serif" font-weight="bold" font-size="13.4" fill="#111">-1.0</text>
<line x1="38.5" y1="146.12" x2="42.7" y2="146.12" stroke="#333" stroke-width="0.9"/>
<line x1="38.5" y1="171.38" x2="42.7" y2="171.38" stroke="#333" stroke-width="0.9"/>
<line x1="38.5" y1="196.62" x2="42.7" y2="196.62" stroke="#333" stroke-width="0.9"/>
<line x1="38.5" y1="221.88" x2="42.7" y2="221.88" stroke="#333" stroke-width="0.9"/>
<line x1="61.49" y1="244.6" x2="61.49" y2="239.1" stroke="#333" stroke-width="0.9"/>
<line x1="107.67" y1="244.6" x2="107.67" y2="239.1" stroke="#333" stroke-width="0.9"/>
<line x1="153.85" y1="244.6" x2="153.85" y2="239.1" stroke="#333" stroke-width="0.9"/>
<line x1="200.03" y1="244.6" x2="200.03" y2="239.1" stroke="#333" stroke-width="0.9"/>
<line x1="246.21" y1="244.6" x2="246.21" y2="239.1" stroke="#333" stroke-width="0.9"/>
<line x1="84.58" y1="244.6" x2="84.58" y2="241.6" stroke="#333" stroke-width="0.9"/>
<line x1="130.76" y1="244.6" x2="130.76" y2="241.6" stroke="#333" stroke-width="0.9"/>
<line x1="176.94" y1="244.6" x2="176.94" y2="241.6" stroke="#333" stroke-width="0.9"/>
<line x1="223.12" y1="244.6" x2="223.12" y2="241.6" stroke="#333" stroke-width="0.9"/>
<rect x="38.5" y="244.6" width="230.9" height="121.2" fill="none" stroke="#333" stroke-width="1"/>
<line x1="38.5" y1="254.7" x2="44.7" y2="254.7" stroke="#333" stroke-width="0.9"/>
<text x="34.4" y="259.1" text-anchor="end" font-family="'Liberation Serif','Times New Roman',serif" font-weight="bold" font-size="13.4" fill="#111">1.0</text>
<line x1="38.5" y1="279.95" x2="44.7" y2="279.95" stroke="#333" stroke-width="0.9"/>
<text x="34.4" y="284.35" text-anchor="end" font-family="'Liberation Serif','Times New Roman',serif" font-weight="bold" font-size="13.4" fill="#111">0.5</text>
<line x1="38.5" y1="305.2" x2="44.7" y2="305.2" stroke="#333" stroke-width="0.9"/>
<text x="34.4" y="309.6" text-anchor="end" font-family="'Liberation Serif','Times New Roman',serif" font-weight="bold" font-size="13.4" fill="#111">0.0</text>
<line x1="38.5" y1="330.45" x2="44.7" y2="330.45" stroke="#333" stroke-width="0.9"/>
<text x="34.4" y="334.85" text-anchor="end" font-family="'Liberation Serif','Times New Roman',serif" font-weight="bold" font-size="13.4" fill="#111">-0.5</text>
<line x1="38.5" y1="355.7" x2="44.7" y2="355.7" stroke="#333" stroke-width="0.9"/>
<text x="34.4" y="360.1" text-anchor="end" font-family="'Liberation Serif','Times New Roman',serif" font-weight="bold" font-size="13.4" fill="#111">-1.0</text>
<line x1="38.5" y1="267.32" x2="42.7" y2="267.32" stroke="#333" stroke-width="0.9"/>
<line x1="38.5" y1="292.57" x2="42.7" y2="292.57" stroke="#333" stroke-width="0.9"/>
<line x1="38.5" y1="317.82" x2="42.7" y2="317.82" stroke="#333" stroke-width="0.9"/>
<line x1="38.5" y1="343.07" x2="42.7" y2="343.07" stroke="#333" stroke-width="0.9"/>
<line x1="61.49" y1="365.8" x2="61.49" y2="360.3" stroke="#333" stroke-width="0.9"/>
<line x1="107.67" y1="365.8" x2="107.67" y2="360.3" stroke="#333" stroke-width="0.9"/>
<line x1="153.85" y1="365.8" x2="153.85" y2="360.3" stroke="#333" stroke-width="0.9"/>
<line x1="200.03" y1="365.8" x2="200.03" y2="360.3" stroke="#333" stroke-width="0.9"/>
<line x1="246.21" y1="365.8" x2="246.21" y2="360.3" stroke="#333" stroke-width="0.9"/>
<line x1="84.58" y1="365.8" x2="84.58" y2="362.8" stroke="#333" stroke-width="0.9"/>
<line x1="130.76" y1="365.8" x2="130.76" y2="362.8" stroke="#333" stroke-width="0.9"/>
<line x1="176.94" y1="365.8" x2="176.94" y2="362.8" stroke="#333" stroke-width="0.9"/>
<line x1="223.12" y1="365.8" x2="223.12" y2="362.8" stroke="#333" stroke-width="0.9"/>
<line x1="38" y1="123.4" x2="269.9" y2="123.4" stroke="#111" stroke-width="1.2"/>
<line x1="38" y1="244.6" x2="269.9" y2="244.6" stroke="#111" stroke-width="1.2"/>
<line x1="38" y1="365.8" x2="269.9" y2="365.8" stroke="#111" stroke-width="1.2"/>
<text x="61.49" y="377" text-anchor="middle" font-family="'Liberation Serif','Times New Roman',serif" font-weight="bold" font-size="13" fill="#111">-800</text>
<text x="107.67" y="377" text-anchor="middle" font-family="'Liberation Serif','Times New Roman',serif" font-weight="bold" font-size="13" fill="#111">-400</text>
<text x="153.85" y="377" text-anchor="middle" font-family="'Liberation Serif','Times New Roman',serif" font-weight="bold" font-size="13" fill="#111">0</text>
<text x="200.03" y="377" text-anchor="middle" font-family="'Liberation Serif','Times New Roman',serif" font-weight="bold" font-size="13" fill="#111">400</text>
<text x="246.21" y="377" text-anchor="middle" font-family="'Liberation Serif','Times New Roman',serif" font-weight="bold" font-size="13" fill="#111">800</text>
<text x="129" y="392.2" font-family="'Liberation Serif','Times New Roman',serif" font-weight="bold" font-size="17.6" fill="#111"><tspan font-style="italic">H</tspan> (Oe)</text>
<text transform="translate(12.8,203.4) rotate(-90)" font-family="'Liberation Serif','Times New Roman',serif" font-weight="bold" font-size="17.6" fill="#111"><tspan font-style="italic">M/M</tspan><tspan font-size="10.5" dy="6">s</tspan></text>
<line x1="59.2" y1="20" x2="86.5" y2="20" stroke="#777" stroke-width="1"/><circle cx="72.8" cy="20" r="1.3" fill="#fff" stroke="#777" stroke-width="0.7"/>
<line x1="59.2" y1="35.4" x2="86.5" y2="35.4" stroke="#333" stroke-width="1"/><circle cx="72.8" cy="35.4" r="1.3" fill="#111" stroke="#111" stroke-width="0.3"/>
<text x="89.8" y="23.7" font-family="'Liberation Serif','Times New Roman',serif" font-weight="bold" font-size="11.8" fill="#111">EA</text>
<text x="89.8" y="39.4" font-family="'Liberation Serif','Times New Roman',serif" font-weight="bold" font-size="11.8" fill="#111">HA</text>
<text x="65" y="61.5" font-family="'Liberation Serif','Times New Roman',serif" font-weight="bold" font-size="13.7" fill="#111">FeGa</text>
<text x="51.5" y="86.1" font-family="'Liberation Serif','Times New Roman',serif" font-weight="bold" font-size="19" fill="#111">(a)</text>
<line x1="63" y1="140.8" x2="90.7" y2="140.8" stroke="#5a5aee" stroke-width="1"/><circle cx="76.1" cy="140.8" r="1.3" fill="#fff" stroke="#1c1ccf" stroke-width="0.7"/>
<line x1="63" y1="155.8" x2="90.7" y2="155.8" stroke="#4a4ae6" stroke-width="1"/><circle cx="76.1" cy="155.8" r="1.3" fill="#1c1ccf" stroke="#1c1ccf" stroke-width="0.3"/>
<text x="93.4" y="144.5" font-family="'Liberation Serif','Times New Roman',serif" font-weight="bold" font-size="11.8" fill="#111">EA</text>
<text x="93.4" y="159.5" font-family="'Liberation Serif','Times New Roman',serif" font-weight="bold" font-size="11.8" fill="#111">HA</text>
<text x="63.4" y="181.2" font-family="'Liberation Serif','Times New Roman',serif" font-weight="bold" font-size="14" fill="#111">FeGaN</text>
<text x="51.5" y="216" font-family="'Liberation Serif','Times New Roman',serif" font-weight="bold" font-size="19" fill="#111">(b)</text>
<line x1="58.3" y1="262.4" x2="86.5" y2="262.4" stroke="#4aa84a" stroke-width="1"/><circle cx="72.2" cy="262.4" r="1.3" fill="#fff" stroke="#2f9a2f" stroke-width="0.7"/>
<line x1="58.3" y1="277.8" x2="86.5" y2="277.8" stroke="#2a7a2a" stroke-width="1"/><circle cx="72.2" cy="277.8" r="1.3" fill="#1a6a1a" stroke="#1a6a1a" stroke-width="0.3"/>
<text x="89.3" y="266" font-family="'Liberation Serif','Times New Roman',serif" font-weight="bold" font-size="11.8" fill="#111">EA</text>
<text x="89.3" y="281.4" font-family="'Liberation Serif','Times New Roman',serif" font-weight="bold" font-size="11.8" fill="#111">HA</text>
<text x="61.4" y="303.5" font-family="'Liberation Serif','Times New Roman',serif" font-weight="bold" font-size="14" fill="#111">FeGaB</text>
<text x="52.4" y="335.4" font-family="'Liberation Serif','Times New Roman',serif" font-weight="bold" font-size="19.3" fill="#111">(c)</text>
<rect x="273.5" y="1.2" width="208" height="205.3" fill="none" stroke="#666" stroke-width="1"/>
<circle cx="376.3" cy="103" r="16.47" fill="none" stroke="#aaa" stroke-width="0.7" stroke-dasharray="1.6,1.6"/>
<circle cx="376.3" cy="103" r="32.94" fill="none" stroke="#aaa" stroke-width="0.7" stroke-dasharray="1.6,1.6"/>
<circle cx="376.3" cy="103" r="49.41" fill="none" stroke="#aaa" stroke-width="0.7" stroke-dasharray="1.6,1.6"/>
<circle cx="376.3" cy="103" r="65.88" fill="none" stroke="#aaa" stroke-width="0.7" stroke-dasharray="1.6,1.6"/>
<circle cx="376.3" cy="103" r="82.35" fill="none" stroke="#999" stroke-width="0.8" stroke-dasharray="3,2"/>
<line x1="376.3" y1="103" x2="331.01" y2="24.55" stroke="#aaa" stroke-width="0.7" stroke-dasharray="1.6,1.6"/>
<line x1="376.3" y1="103" x2="297.85" y2="57.71" stroke="#aaa" stroke-width="0.7" stroke-dasharray="1.6,1.6"/>
<line x1="376.3" y1="103" x2="285.72" y2="103" stroke="#aaa" stroke-width="0.7" stroke-dasharray="1.6,1.6"/>
<line x1="376.3" y1="103" x2="297.85" y2="148.29" stroke="#aaa" stroke-width="0.7" stroke-dasharray="1.6,1.6"/>
<line x1="376.3" y1="103" x2="331.01" y2="181.45" stroke="#aaa" stroke-width="0.7" stroke-dasharray="1.6,1.6"/>
<line x1="376.3" y1="103" x2="421.59" y2="181.45" stroke="#aaa" stroke-width="0.7" stroke-dasharray="1.6,1.6"/>
<line x1="376.3" y1="103" x2="454.75" y2="148.29" stroke="#aaa" stroke-width="0.7" stroke-dasharray="1.6,1.6"/>
<line x1="376.3" y1="103" x2="466.88" y2="103" stroke="#aaa" stroke-width="0.7" stroke-dasharray="1.6,1.6"/>
<line x1="376.3" y1="103" x2="454.75" y2="57.71" stroke="#aaa" stroke-width="0.7" stroke-dasharray="1.6,1.6"/>
<line x1="376.3" y1="103" x2="421.59" y2="24.55" stroke="#aaa" stroke-width="0.7" stroke-dasharray="1.6,1.6"/>
<line x1="285.72" y1="103" x2="361.5" y2="103" stroke="#aaa" stroke-width="0.7" stroke-dasharray="1.6,1.6"/>
<line x1="395.5" y1="103" x2="466.88" y2="103" stroke="#aaa" stroke-width="0.7" stroke-dasharray="1.6,1.6"/>
<line x1="370" y1="103" x2="382.5" y2="103" stroke="#333" stroke-width="0.9"/>
<circle cx="376.3" cy="103" r="90.59" fill="none" stroke="#444" stroke-width="1"/>
<line x1="376.3" y1="12.41" x2="376.3" y2="193.59" stroke="#333" stroke-width="1"/>
<line x1="373.1" y1="86.53" x2="379.5" y2="86.53" stroke="#333" stroke-width="0.9"/>
<line x1="373.1" y1="119.47" x2="379.5" y2="119.47" stroke="#333" stroke-width="0.9"/>
<line x1="373.1" y1="70.06" x2="379.5" y2="70.06" stroke="#333" stroke-width="0.9"/>
<line x1="373.1" y1="135.94" x2="379.5" y2="135.94" stroke="#333" stroke-width="0.9"/>
<line x1="373.1" y1="53.59" x2="379.5" y2="53.59" stroke="#333" stroke-width="0.9"/>
<line x1="373.1" y1="152.41" x2="379.5" y2="152.41" stroke="#333" stroke-width="0.9"/>
<line x1="373.1" y1="37.12" x2="379.5" y2="37.12" stroke="#333" stroke-width="0.9"/>
<line x1="373.1" y1="168.88" x2="379.5" y2="168.88" stroke="#333" stroke-width="0.9"/>
<line x1="370" y1="20.65" x2="382.6" y2="20.65" stroke="#333" stroke-width="0.9"/>
<line x1="370" y1="185.35" x2="382.6" y2="185.35" stroke="#333" stroke-width="0.9"/>
<line x1="376.3" y1="12.41" x2="376.3" y2="18.91" stroke="#444" stroke-width="0.9"/>
<line x1="352.85" y1="15.5" x2="353.76" y2="18.88" stroke="#444" stroke-width="0.8"/>
<text transform="translate(376.3,7.1) rotate(0)" text-anchor="middle" y="4.1" font-family="'Liberation Serif','Times New Roman',serif" font-weight="bold" font-size="12.2" fill="#111">0</text>
<line x1="331.01" y1="24.55" x2="334.26" y2="30.18" stroke="#444" stroke-width="0.9"/>
<line x1="312.25" y1="38.95" x2="314.72" y2="41.42" stroke="#444" stroke-width="0.8"/>
<text transform="translate(327.75,18.91) rotate(-30)" text-anchor="middle" y="4.1" font-family="'Liberation Serif','Times New Roman',serif" font-weight="bold" font-size="12.2" fill="#111">30</text>
<line x1="297.85" y1="57.71" x2="303.48" y2="60.96" stroke="#444" stroke-width="0.9"/>
<line x1="288.8" y1="79.55" x2="292.18" y2="80.46" stroke="#444" stroke-width="0.8"/>
<text transform="translate(292.21,54.45) rotate(-60)" text-anchor="middle" y="4.1" font-family="'Liberation Serif','Times New Roman',serif" font-weight="bold" font-size="12.2" fill="#111">60</text>
<line x1="285.72" y1="103" x2="292.22" y2="103" stroke="#444" stroke-width="0.9"/>
<line x1="288.8" y1="126.45" x2="292.18" y2="125.54" stroke="#444" stroke-width="0.8"/>
<text transform="translate(279.2,103) rotate(90)" text-anchor="middle" y="4.1" font-family="'Liberation Serif','Times New Roman',serif" font-weight="bold" font-size="12.2" fill="#111">90</text>
<line x1="297.85" y1="148.29" x2="303.48" y2="145.04" stroke="#444" stroke-width="0.9"/>
<line x1="312.25" y1="167.05" x2="314.72" y2="164.58" stroke="#444" stroke-width="0.8"/>
<text transform="translate(292.21,151.55) rotate(60)" text-anchor="middle" y="4.1" font-family="'Liberation Serif','Times New Roman',serif" font-weight="bold" font-size="12.2" fill="#111">120</text>
<line x1="331.01" y1="181.45" x2="334.26" y2="175.82" stroke="#444" stroke-width="0.9"/>
<line x1="352.85" y1="190.5" x2="353.76" y2="187.12" stroke="#444" stroke-width="0.8"/>
<text transform="translate(327.75,187.09) rotate(30)" text-anchor="middle" y="4.1" font-family="'Liberation Serif','Times New Roman',serif" font-weight="bold" font-size="12.2" fill="#111">150</text>
<line x1="376.3" y1="193.59" x2="376.3" y2="187.09" stroke="#444" stroke-width="0.9"/>
<line x1="399.75" y1="190.5" x2="398.84" y2="187.12" stroke="#444" stroke-width="0.8"/>
<text transform="translate(376.3,200.1) rotate(0)" text-anchor="middle" y="4.1" font-family="'Liberation Serif','Times New Roman',serif" font-weight="bold" font-size="12.2" fill="#111">180</text>
<line x1="421.59" y1="181.45" x2="418.34" y2="175.82" stroke="#444" stroke-width="0.9"/>
<line x1="440.35" y1="167.05" x2="437.88" y2="164.58" stroke="#444" stroke-width="0.8"/>
<text transform="translate(424.85,187.09) rotate(-30)" text-anchor="middle" y="4.1" font-family="'Liberation Serif','Times New Roman',serif" font-weight="bold" font-size="12.2" fill="#111">210</text>
<line x1="454.75" y1="148.29" x2="449.12" y2="145.04" stroke="#444" stroke-width="0.9"/>
<line x1="463.8" y1="126.45" x2="460.42" y2="125.54" stroke="#444" stroke-width="0.8"/>
<text transform="translate(460.39,151.55) rotate(-60)" text-anchor="middle" y="4.1" font-family="'Liberation Serif','Times New Roman',serif" font-weight="bold" font-size="12.2" fill="#111">240</text>
<line x1="466.88" y1="103" x2="460.38" y2="103" stroke="#444" stroke-width="0.9"/>
<line x1="463.8" y1="79.55" x2="460.42" y2="80.46" stroke="#444" stroke-width="0.8"/>
<text transform="translate(473.4,103) rotate(-90)" text-anchor="middle" y="4.1" font-family="'Liberation Serif','Times New Roman',serif" font-weight="bold" font-size="12.2" fill="#111">270</text>
<line x1="454.75" y1="57.71" x2="449.12" y2="60.96" stroke="#444" stroke-width="0.9"/>
<line x1="440.35" y1="38.95" x2="437.88" y2="41.42" stroke="#444" stroke-width="0.8"/>
<text transform="translate(460.39,54.45) rotate(60)" text-anchor="middle" y="4.1" font-family="'Liberation Serif','Times New Roman',serif" font-weight="bold" font-size="12.2" fill="#111">300</text>
<line x1="421.59" y1="24.55" x2="418.34" y2="30.18" stroke="#444" stroke-width="0.9"/>
<line x1="399.75" y1="15.5" x2="398.84" y2="18.88" stroke="#444" stroke-width="0.8"/>
<text transform="translate(424.85,18.91) rotate(30)" text-anchor="middle" y="4.1" font-family="'Liberation Serif','Times New Roman',serif" font-weight="bold" font-size="12.2" fill="#111">330</text>
<text x="367" y="24.5" text-anchor="middle" font-family="'Liberation Serif','Times New Roman',serif" font-weight="bold" font-size="11.5" fill="#111">1</text>
<text x="367" y="189.5" text-anchor="middle" font-family="'Liberation Serif','Times New Roman',serif" font-weight="bold" font-size="11.5" fill="#111">1</text>
<text x="366.5" y="107" text-anchor="middle" font-family="'Liberation Serif','Times New Roman',serif" font-weight="bold" font-size="11.5" fill="#111">0</text>
<text transform="translate(392.6,119.8) rotate(-90)" font-family="'Liberation Serif','Times New Roman',serif" font-weight="bold" font-size="14.7" fill="#111"><tspan font-style="italic">M</tspan><tspan font-size="9" dy="4.6" font-style="italic">r</tspan><tspan dy="-4.6" dx="-1" font-style="italic">/M</tspan><tspan font-size="9" dy="4.6">s</tspan></text>
<polygon points="376.3,68.92 373.4,73.95 379.2,73.95" fill="none" stroke="#2a8c2a" stroke-width="1.15"/>
<polygon points="373.39,66.66 370.49,71.68 376.29,71.68" fill="none" stroke="#2a8c2a" stroke-width="1.15"/>
<polygon points="369.72,62.58 366.82,67.6 372.62,67.6" fill="none" stroke="#2a8c2a" stroke-width="1.15"/>
<polygon points="364.9,57.33 362,62.35 367.8,62.35" fill="none" stroke="#2a8c2a" stroke-width="1.15"/>
<polygon points="359.68,54.23 356.78,59.25 362.58,59.25" fill="none" stroke="#2a8c2a" stroke-width="1.15"/>
<polygon points="354.13,52.34 351.23,57.37 357.03,57.37" fill="none" stroke="#2a8c2a" stroke-width="1.15"/>
<polygon points="348.1,51.03 345.2,56.06 351,56.06" fill="none" stroke="#2a8c2a" stroke-width="1.15"/>
<polygon points="341.35,49.97 338.45,54.99 344.25,54.99" fill="none" stroke="#2a8c2a" stroke-width="1.15"/>
<polygon points="335.01,50.68 332.11,55.7 337.91,55.7" fill="none" stroke="#2a8c2a" stroke-width="1.15"/>
<polygon points="328.78,52.37 325.88,57.39 331.68,57.39" fill="none" stroke="#2a8c2a" stroke-width="1.15"/>
<polygon points="322.68,54.89 319.78,59.92 325.58,59.92" fill="none" stroke="#2a8c2a" stroke-width="1.15"/>
<polygon points="316.74,58.18 313.84,63.2 319.64,63.2" fill="none" stroke="#2a8c2a" stroke-width="1.15"/>
<polygon points="311.26,62.33 308.36,67.36 314.16,67.36" fill="none" stroke="#2a8c2a" stroke-width="1.15"/>
<polygon points="306.29,67.24 303.39,72.26 309.19,72.26" fill="none" stroke="#2a8c2a" stroke-width="1.15"/>
<polygon points="302.32,72.96 299.42,77.98 305.22,77.98" fill="none" stroke="#2a8c2a" stroke-width="1.15"/>
<polygon points="299.14,79.21 296.24,84.23 302.04,84.23" fill="none" stroke="#2a8c2a" stroke-width="1.15"/>
<polygon points="297.07,85.91 294.17,90.94 299.97,90.94" fill="none" stroke="#2a8c2a" stroke-width="1.15"/>
<polygon points="296.07,92.87 293.17,97.89 298.97,97.89" fill="none" stroke="#2a8c2a" stroke-width="1.15"/>
<polygon points="295.76,99.89 292.86,104.91 298.66,104.91" fill="none" stroke="#2a8c2a" stroke-width="1.15"/>
<polygon points="296.75,106.85 293.85,111.87 299.65,111.87" fill="none" stroke="#2a8c2a" stroke-width="1.15"/>
<polygon points="298.69,113.57 295.79,118.59 301.59,118.59" fill="none" stroke="#2a8c2a" stroke-width="1.15"/>
<polygon points="301.55,119.91 298.65,124.94 304.45,124.94" fill="none" stroke="#2a8c2a" stroke-width="1.15"/>
<polygon points="304.97,125.85 302.07,130.87 307.87,130.87" fill="none" stroke="#2a8c2a" stroke-width="1.15"/>
<polygon points="308.98,131.28 306.08,136.3 311.88,136.3" fill="none" stroke="#2a8c2a" stroke-width="1.15"/>
<polygon points="313.69,136.04 310.79,141.06 316.59,141.06" fill="none" stroke="#2a8c2a" stroke-width="1.15"/>
<polygon points="319.68,139.53 316.78,144.55 322.58,144.55" fill="none" stroke="#2a8c2a" stroke-width="1.15"/>
<polygon points="326.34,141.81 323.44,146.83 329.24,146.83" fill="none" stroke="#2a8c2a" stroke-width="1.15"/>
<polygon points="332.75,143.44 329.85,148.46 335.65,148.46" fill="none" stroke="#2a8c2a" stroke-width="1.15"/>
<polygon points="339.67,143.54 336.77,148.56 342.57,148.56" fill="none" stroke="#2a8c2a" stroke-width="1.15"/>
<polygon points="345.76,143.51 342.86,148.53 348.66,148.53" fill="none" stroke="#2a8c2a" stroke-width="1.15"/>
<polygon points="352.12,141.77 349.22,146.79 355.02,146.79" fill="none" stroke="#2a8c2a" stroke-width="1.15"/>
<polygon points="358.18,138.74 355.28,143.76 361.08,143.76" fill="none" stroke="#2a8c2a" stroke-width="1.15"/>
<polygon points="363.33,135.52 360.43,140.55 366.23,140.55" fill="none" stroke="#2a8c2a" stroke-width="1.15"/>
<polygon points="367.51,132.71 364.61,137.73 370.41,137.73" fill="none" stroke="#2a8c2a" stroke-width="1.15"/>
<polygon points="370.89,130.58 367.99,135.6 373.79,135.6" fill="none" stroke="#2a8c2a" stroke-width="1.15"/>
<polygon points="373.73,129.22 370.83,134.24 376.63,134.24" fill="none" stroke="#2a8c2a" stroke-width="1.15"/>
<polygon points="376.3,129.53 373.4,134.55 379.2,134.55" fill="none" stroke="#2a8c2a" stroke-width="1.15"/>
<polygon points="379.13,132.23 376.23,137.25 382.03,137.25" fill="none" stroke="#2a8c2a" stroke-width="1.15"/>
<polygon points="382.53,135.22 379.63,140.24 385.43,140.24" fill="none" stroke="#2a8c2a" stroke-width="1.15"/>
<polygon points="386.65,138.5 383.75,143.52 389.55,143.52" fill="none" stroke="#2a8c2a" stroke-width="1.15"/>
<polygon points="391.75,142.33 388.85,147.35 394.65,147.35" fill="none" stroke="#2a8c2a" stroke-width="1.15"/>
<polygon points="397.62,145.6 394.72,150.62 400.52,150.62" fill="none" stroke="#2a8c2a" stroke-width="1.15"/>
<polygon points="403.99,147.84 401.09,152.86 406.89,152.86" fill="none" stroke="#2a8c2a" stroke-width="1.15"/>
<polygon points="410.68,148.99 407.78,154.01 413.58,154.01" fill="none" stroke="#2a8c2a" stroke-width="1.15"/>
<polygon points="417.13,148.55 414.23,153.57 420.03,153.57" fill="none" stroke="#2a8c2a" stroke-width="1.15"/>
<polygon points="423.64,147.23 420.74,152.25 426.54,152.25" fill="none" stroke="#2a8c2a" stroke-width="1.15"/>
<polygon points="429.77,144.75 426.87,149.78 432.67,149.78" fill="none" stroke="#2a8c2a" stroke-width="1.15"/>
<polygon points="435.54,141.37 432.64,146.39 438.44,146.39" fill="none" stroke="#2a8c2a" stroke-width="1.15"/>
<polygon points="440.52,136.96 437.62,141.99 443.42,141.99" fill="none" stroke="#2a8c2a" stroke-width="1.15"/>
<polygon points="445.11,131.97 442.21,137 448.01,137" fill="none" stroke="#2a8c2a" stroke-width="1.15"/>
<polygon points="448.75,126.26 445.85,131.28 451.65,131.28" fill="none" stroke="#2a8c2a" stroke-width="1.15"/>
<polygon points="451.95,120.16 449.05,125.18 454.85,125.18" fill="none" stroke="#2a8c2a" stroke-width="1.15"/>
<polygon points="454.32,113.64 451.42,118.67 457.22,118.67" fill="none" stroke="#2a8c2a" stroke-width="1.15"/>
<polygon points="455.46,106.81 452.56,111.83 458.36,111.83" fill="none" stroke="#2a8c2a" stroke-width="1.15"/>
<polygon points="456.59,99.89 453.69,104.91 459.49,104.91" fill="none" stroke="#2a8c2a" stroke-width="1.15"/>
<polygon points="455.63,92.95 452.73,97.97 458.53,97.97" fill="none" stroke="#2a8c2a" stroke-width="1.15"/>
<polygon points="453.75,86.23 450.85,91.25 456.65,91.25" fill="none" stroke="#2a8c2a" stroke-width="1.15"/>
<polygon points="451.07,79.85 448.17,84.87 453.97,84.87" fill="none" stroke="#2a8c2a" stroke-width="1.15"/>
<polygon points="447.49,73.97 444.59,79 450.39,79" fill="none" stroke="#2a8c2a" stroke-width="1.15"/>
<polygon points="443.84,68.39 440.94,73.41 446.74,73.41" fill="none" stroke="#2a8c2a" stroke-width="1.15"/>
<polygon points="438.85,63.78 435.95,68.8 441.75,68.8" fill="none" stroke="#2a8c2a" stroke-width="1.15"/>
<polygon points="433.98,59.5 431.08,64.52 436.88,64.52" fill="none" stroke="#2a8c2a" stroke-width="1.15"/>
<polygon points="428.28,56.27 425.38,61.29 431.18,61.29" fill="none" stroke="#2a8c2a" stroke-width="1.15"/>
<polygon points="422.3,53.88 419.4,58.91 425.2,58.91" fill="none" stroke="#2a8c2a" stroke-width="1.15"/>
<polygon points="415.89,52.7 412.99,57.72 418.79,57.72" fill="none" stroke="#2a8c2a" stroke-width="1.15"/>
<polygon points="409.6,52.33 406.7,57.35 412.5,57.35" fill="none" stroke="#2a8c2a" stroke-width="1.15"/>
<polygon points="403.68,52.46 400.78,57.48 406.58,57.48" fill="none" stroke="#2a8c2a" stroke-width="1.15"/>
<polygon points="397.88,53.61 394.98,58.64 400.78,58.64" fill="none" stroke="#2a8c2a" stroke-width="1.15"/>
<polygon points="392.55,55.24 389.65,60.26 395.45,60.26" fill="none" stroke="#2a8c2a" stroke-width="1.15"/>
<polygon points="387.49,58.13 384.59,63.15 390.39,63.15" fill="none" stroke="#2a8c2a" stroke-width="1.15"/>
<polygon points="382.88,62.58 379.98,67.6 385.78,67.6" fill="none" stroke="#2a8c2a" stroke-width="1.15"/>
<polygon points="379.21,66.66 376.31,71.68 382.11,71.68" fill="none" stroke="#2a8c2a" stroke-width="1.15"/>
<circle cx="376.3" cy="75.66" r="2.15" fill="none" stroke="#2020c0" stroke-width="1.15"/>
<circle cx="373.86" cy="75.11" r="2.15" fill="none" stroke="#2020c0" stroke-width="1.15"/>
<circle cx="371.01" cy="72.99" r="2.15" fill="none" stroke="#2020c0" stroke-width="1.15"/>
<circle cx="367.35" cy="69.59" r="2.15" fill="none" stroke="#2020c0" stroke-width="1.15"/>
<circle cx="362.92" cy="66.24" r="2.15" fill="none" stroke="#2020c0" stroke-width="1.15"/>
<circle cx="357.85" cy="63.44" r="2.15" fill="none" stroke="#2020c0" stroke-width="1.15"/>
<circle cx="352.29" cy="61.42" r="2.15" fill="none" stroke="#2020c0" stroke-width="1.15"/>
<circle cx="346.21" cy="60.03" r="2.15" fill="none" stroke="#2020c0" stroke-width="1.15"/>
<circle cx="340.04" cy="59.79" r="2.15" fill="none" stroke="#2020c0" stroke-width="1.15"/>
<circle cx="334.32" cy="61.02" r="2.15" fill="none" stroke="#2020c0" stroke-width="1.15"/>
<circle cx="328.42" cy="62.82" r="2.15" fill="none" stroke="#2020c0" stroke-width="1.15"/>
<circle cx="322.6" cy="65.4" r="2.15" fill="none" stroke="#2020c0" stroke-width="1.15"/>
<circle cx="317.68" cy="69.15" r="2.15" fill="none" stroke="#2020c0" stroke-width="1.15"/>
<circle cx="313.31" cy="73.63" r="2.15" fill="none" stroke="#2020c0" stroke-width="1.15"/>
<circle cx="309.67" cy="78.75" r="2.15" fill="none" stroke="#2020c0" stroke-width="1.15"/>
<circle cx="306.3" cy="84.24" r="2.15" fill="none" stroke="#2020c0" stroke-width="1.15"/>
<circle cx="304.2" cy="90.29" r="2.15" fill="none" stroke="#2020c0" stroke-width="1.15"/>
<circle cx="302.55" cy="96.55" r="2.15" fill="none" stroke="#2020c0" stroke-width="1.15"/>
<circle cx="302.02" cy="103" r="2.15" fill="none" stroke="#2020c0" stroke-width="1.15"/>
<circle cx="303.38" cy="109.38" r="2.15" fill="none" stroke="#2020c0" stroke-width="1.15"/>
<circle cx="305.18" cy="115.54" r="2.15" fill="none" stroke="#2020c0" stroke-width="1.15"/>
<circle cx="307.53" cy="121.43" r="2.15" fill="none" stroke="#2020c0" stroke-width="1.15"/>
<circle cx="310.99" cy="126.77" r="2.15" fill="none" stroke="#2020c0" stroke-width="1.15"/>
<circle cx="314.93" cy="131.62" r="2.15" fill="none" stroke="#2020c0" stroke-width="1.15"/>
<circle cx="319.33" cy="135.89" r="2.15" fill="none" stroke="#2020c0" stroke-width="1.15"/>
<circle cx="324.18" cy="139.5" r="2.15" fill="none" stroke="#2020c0" stroke-width="1.15"/>
<circle cx="328.99" cy="142.7" r="2.15" fill="none" stroke="#2020c0" stroke-width="1.15"/>
<circle cx="334.35" cy="144.95" r="2.15" fill="none" stroke="#2020c0" stroke-width="1.15"/>
<circle cx="340.12" cy="146.12" r="2.15" fill="none" stroke="#2020c0" stroke-width="1.15"/>
<circle cx="346.92" cy="144.97" r="2.15" fill="none" stroke="#2020c0" stroke-width="1.15"/>
<circle cx="353.3" cy="142.83" r="2.15" fill="none" stroke="#2020c0" stroke-width="1.15"/>
<circle cx="359.39" cy="139.27" r="2.15" fill="none" stroke="#2020c0" stroke-width="1.15"/>
<circle cx="364.06" cy="136.62" r="2.15" fill="none" stroke="#2020c0" stroke-width="1.15"/>
<circle cx="368" cy="133.96" r="2.15" fill="none" stroke="#2020c0" stroke-width="1.15"/>
<circle cx="371.24" cy="131.7" r="2.15" fill="none" stroke="#2020c0" stroke-width="1.15"/>
<circle cx="373.87" cy="130.73" r="2.15" fill="none" stroke="#2020c0" stroke-width="1.15"/>
<circle cx="376.3" cy="130.59" r="2.15" fill="none" stroke="#2020c0" stroke-width="1.15"/>
<circle cx="378.75" cy="131.06" r="2.15" fill="none" stroke="#2020c0" stroke-width="1.15"/>
<circle cx="381.52" cy="132.6" r="2.15" fill="none" stroke="#2020c0" stroke-width="1.15"/>
<circle cx="385.15" cy="136.01" r="2.15" fill="none" stroke="#2020c0" stroke-width="1.15"/>
<circle cx="389.34" cy="138.83" r="2.15" fill="none" stroke="#2020c0" stroke-width="1.15"/>
<circle cx="394.23" cy="141.45" r="2.15" fill="none" stroke="#2020c0" stroke-width="1.15"/>
<circle cx="399.84" cy="143.77" r="2.15" fill="none" stroke="#2020c0" stroke-width="1.15"/>
<circle cx="406.57" cy="146.23" r="2.15" fill="none" stroke="#2020c0" stroke-width="1.15"/>
<circle cx="412.56" cy="146.21" r="2.15" fill="none" stroke="#2020c0" stroke-width="1.15"/>
<circle cx="418.8" cy="145.5" r="2.15" fill="none" stroke="#2020c0" stroke-width="1.15"/>
<circle cx="425.13" cy="143.97" r="2.15" fill="none" stroke="#2020c0" stroke-width="1.15"/>
<circle cx="430.75" cy="141.13" r="2.15" fill="none" stroke="#2020c0" stroke-width="1.15"/>
<circle cx="436.22" cy="137.6" r="2.15" fill="none" stroke="#2020c0" stroke-width="1.15"/>
<circle cx="441.74" cy="133.52" r="2.15" fill="none" stroke="#2020c0" stroke-width="1.15"/>
<circle cx="445.76" cy="128.28" r="2.15" fill="none" stroke="#2020c0" stroke-width="1.15"/>
<circle cx="448.69" cy="122.4" r="2.15" fill="none" stroke="#2020c0" stroke-width="1.15"/>
<circle cx="450.1" cy="116.01" r="2.15" fill="none" stroke="#2020c0" stroke-width="1.15"/>
<circle cx="450.8" cy="109.52" r="2.15" fill="none" stroke="#2020c0" stroke-width="1.15"/>
<circle cx="451.4" cy="103" r="2.15" fill="none" stroke="#2020c0" stroke-width="1.15"/>
<circle cx="451.33" cy="96.44" r="2.15" fill="none" stroke="#2020c0" stroke-width="1.15"/>
<circle cx="450.11" cy="89.99" r="2.15" fill="none" stroke="#2020c0" stroke-width="1.15"/>
<circle cx="447.95" cy="83.8" r="2.15" fill="none" stroke="#2020c0" stroke-width="1.15"/>
<circle cx="444.88" cy="78.04" r="2.15" fill="none" stroke="#2020c0" stroke-width="1.15"/>
<circle cx="440.78" cy="72.93" r="2.15" fill="none" stroke="#2020c0" stroke-width="1.15"/>
<circle cx="435.97" cy="68.55" r="2.15" fill="none" stroke="#2020c0" stroke-width="1.15"/>
<circle cx="430.48" cy="65.06" r="2.15" fill="none" stroke="#2020c0" stroke-width="1.15"/>
<circle cx="424.53" cy="62.53" r="2.15" fill="none" stroke="#2020c0" stroke-width="1.15"/>
<circle cx="418.47" cy="60.83" r="2.15" fill="none" stroke="#2020c0" stroke-width="1.15"/>
<circle cx="411.92" cy="60.56" r="2.15" fill="none" stroke="#2020c0" stroke-width="1.15"/>
<circle cx="405.52" cy="61.26" r="2.15" fill="none" stroke="#2020c0" stroke-width="1.15"/>
<circle cx="399.56" cy="62.71" r="2.15" fill="none" stroke="#2020c0" stroke-width="1.15"/>
<circle cx="394.08" cy="64.87" r="2.15" fill="none" stroke="#2020c0" stroke-width="1.15"/>
<circle cx="388.98" cy="68.15" r="2.15" fill="none" stroke="#2020c0" stroke-width="1.15"/>
<circle cx="384.89" cy="70.94" r="2.15" fill="none" stroke="#2020c0" stroke-width="1.15"/>
<circle cx="381.45" cy="73.8" r="2.15" fill="none" stroke="#2020c0" stroke-width="1.15"/>
<circle cx="378.73" cy="75.27" r="2.15" fill="none" stroke="#2020c0" stroke-width="1.15"/>
<rect x="374.6" y="55.76" width="3.4" height="3.4" fill="none" stroke="#111" stroke-width="1.1"/>
<rect x="370.6" y="55.52" width="3.4" height="3.4" fill="none" stroke="#111" stroke-width="1.1"/>
<rect x="366.55" y="55.64" width="3.4" height="3.4" fill="none" stroke="#111" stroke-width="1.1"/>
<rect x="362.42" y="55.84" width="3.4" height="3.4" fill="none" stroke="#111" stroke-width="1.1"/>
<rect x="358.26" y="56.42" width="3.4" height="3.4" fill="none" stroke="#111" stroke-width="1.1"/>
<rect x="354.14" y="57.41" width="3.4" height="3.4" fill="none" stroke="#111" stroke-width="1.1"/>
<rect x="350.06" y="58.79" width="3.4" height="3.4" fill="none" stroke="#111" stroke-width="1.1"/>
<rect x="346.19" y="60.72" width="3.4" height="3.4" fill="none" stroke="#111" stroke-width="1.1"/>
<rect x="342.47" y="63.01" width="3.4" height="3.4" fill="none" stroke="#111" stroke-width="1.1"/>
<rect x="338.93" y="65.63" width="3.4" height="3.4" fill="none" stroke="#111" stroke-width="1.1"/>
<rect x="335.61" y="68.59" width="3.4" height="3.4" fill="none" stroke="#111" stroke-width="1.1"/>
<rect x="332.44" y="71.78" width="3.4" height="3.4" fill="none" stroke="#111" stroke-width="1.1"/>
<rect x="329.53" y="75.28" width="3.4" height="3.4" fill="none" stroke="#111" stroke-width="1.1"/>
<rect x="326.95" y="79.08" width="3.4" height="3.4" fill="none" stroke="#111" stroke-width="1.1"/>
<rect x="324.69" y="83.13" width="3.4" height="3.4" fill="none" stroke="#111" stroke-width="1.1"/>
<rect x="322.86" y="87.44" width="3.4" height="3.4" fill="none" stroke="#111" stroke-width="1.1"/>
<rect x="321.4" y="91.92" width="3.4" height="3.4" fill="none" stroke="#111" stroke-width="1.1"/>
<rect x="320.5" y="96.57" width="3.4" height="3.4" fill="none" stroke="#111" stroke-width="1.1"/>
<rect x="320" y="101.3" width="3.4" height="3.4" fill="none" stroke="#111" stroke-width="1.1"/>
<rect x="320.5" y="106.03" width="3.4" height="3.4" fill="none" stroke="#111" stroke-width="1.1"/>
<rect x="321.4" y="110.68" width="3.4" height="3.4" fill="none" stroke="#111" stroke-width="1.1"/>
<rect x="322.86" y="115.16" width="3.4" height="3.4" fill="none" stroke="#111" stroke-width="1.1"/>
<rect x="324.69" y="119.47" width="3.4" height="3.4" fill="none" stroke="#111" stroke-width="1.1"/>
<rect x="326.95" y="123.52" width="3.4" height="3.4" fill="none" stroke="#111" stroke-width="1.1"/>
<rect x="329.53" y="127.32" width="3.4" height="3.4" fill="none" stroke="#111" stroke-width="1.1"/>
<rect x="332.44" y="130.82" width="3.4" height="3.4" fill="none" stroke="#111" stroke-width="1.1"/>
<rect x="335.61" y="134.01" width="3.4" height="3.4" fill="none" stroke="#111" stroke-width="1.1"/>
<rect x="338.93" y="136.97" width="3.4" height="3.4" fill="none" stroke="#111" stroke-width="1.1"/>
<rect x="342.47" y="139.59" width="3.4" height="3.4" fill="none" stroke="#111" stroke-width="1.1"/>
<rect x="346.19" y="141.88" width="3.4" height="3.4" fill="none" stroke="#111" stroke-width="1.1"/>
<rect x="350.06" y="143.81" width="3.4" height="3.4" fill="none" stroke="#111" stroke-width="1.1"/>
<rect x="354.14" y="145.19" width="3.4" height="3.4" fill="none" stroke="#111" stroke-width="1.1"/>
<rect x="358.26" y="146.18" width="3.4" height="3.4" fill="none" stroke="#111" stroke-width="1.1"/>
<rect x="362.42" y="146.76" width="3.4" height="3.4" fill="none" stroke="#111" stroke-width="1.1"/>
<rect x="366.55" y="146.96" width="3.4" height="3.4" fill="none" stroke="#111" stroke-width="1.1"/>
<rect x="370.6" y="147.08" width="3.4" height="3.4" fill="none" stroke="#111" stroke-width="1.1"/>
<rect x="374.6" y="146.84" width="3.4" height="3.4" fill="none" stroke="#111" stroke-width="1.1"/>
<rect x="378.6" y="147.08" width="3.4" height="3.4" fill="none" stroke="#111" stroke-width="1.1"/>
<rect x="382.65" y="146.96" width="3.4" height="3.4" fill="none" stroke="#111" stroke-width="1.1"/>
<rect x="386.78" y="146.76" width="3.4" height="3.4" fill="none" stroke="#111" stroke-width="1.1"/>
<rect x="390.94" y="146.18" width="3.4" height="3.4" fill="none" stroke="#111" stroke-width="1.1"/>
<rect x="395.06" y="145.19" width="3.4" height="3.4" fill="none" stroke="#111" stroke-width="1.1"/>
<rect x="399.14" y="143.81" width="3.4" height="3.4" fill="none" stroke="#111" stroke-width="1.1"/>
<rect x="403.01" y="141.88" width="3.4" height="3.4" fill="none" stroke="#111" stroke-width="1.1"/>
<rect x="406.73" y="139.59" width="3.4" height="3.4" fill="none" stroke="#111" stroke-width="1.1"/>
<rect x="410.27" y="136.97" width="3.4" height="3.4" fill="none" stroke="#111" stroke-width="1.1"/>
<rect x="413.59" y="134.01" width="3.4" height="3.4" fill="none" stroke="#111" stroke-width="1.1"/>
<rect x="416.76" y="130.82" width="3.4" height="3.4" fill="none" stroke="#111" stroke-width="1.1"/>
<rect x="419.67" y="127.32" width="3.4" height="3.4" fill="none" stroke="#111" stroke-width="1.1"/>
<rect x="422.25" y="123.52" width="3.4" height="3.4" fill="none" stroke="#111" stroke-width="1.1"/>
<rect x="424.51" y="119.47" width="3.4" height="3.4" fill="none" stroke="#111" stroke-width="1.1"/>
<rect x="426.34" y="115.16" width="3.4" height="3.4" fill="none" stroke="#111" stroke-width="1.1"/>
<rect x="427.8" y="110.68" width="3.4" height="3.4" fill="none" stroke="#111" stroke-width="1.1"/>
<rect x="428.7" y="106.03" width="3.4" height="3.4" fill="none" stroke="#111" stroke-width="1.1"/>
<rect x="429.2" y="101.3" width="3.4" height="3.4" fill="none" stroke="#111" stroke-width="1.1"/>
<rect x="428.7" y="96.57" width="3.4" height="3.4" fill="none" stroke="#111" stroke-width="1.1"/>
<rect x="427.8" y="91.92" width="3.4" height="3.4" fill="none" stroke="#111" stroke-width="1.1"/>
<rect x="426.34" y="87.44" width="3.4" height="3.4" fill="none" stroke="#111" stroke-width="1.1"/>
<rect x="424.51" y="83.13" width="3.4" height="3.4" fill="none" stroke="#111" stroke-width="1.1"/>
<rect x="422.25" y="79.08" width="3.4" height="3.4" fill="none" stroke="#111" stroke-width="1.1"/>
<rect x="419.67" y="75.28" width="3.4" height="3.4" fill="none" stroke="#111" stroke-width="1.1"/>
<rect x="416.76" y="71.78" width="3.4" height="3.4" fill="none" stroke="#111" stroke-width="1.1"/>
<rect x="413.59" y="68.59" width="3.4" height="3.4" fill="none" stroke="#111" stroke-width="1.1"/>
<rect x="410.27" y="65.63" width="3.4" height="3.4" fill="none" stroke="#111" stroke-width="1.1"/>
<rect x="406.73" y="63.01" width="3.4" height="3.4" fill="none" stroke="#111" stroke-width="1.1"/>
<rect x="403.01" y="60.72" width="3.4" height="3.4" fill="none" stroke="#111" stroke-width="1.1"/>
<rect x="399.14" y="58.79" width="3.4" height="3.4" fill="none" stroke="#111" stroke-width="1.1"/>
<rect x="395.06" y="57.41" width="3.4" height="3.4" fill="none" stroke="#111" stroke-width="1.1"/>
<rect x="390.94" y="56.42" width="3.4" height="3.4" fill="none" stroke="#111" stroke-width="1.1"/>
<rect x="386.78" y="55.84" width="3.4" height="3.4" fill="none" stroke="#111" stroke-width="1.1"/>
<rect x="382.65" y="55.64" width="3.4" height="3.4" fill="none" stroke="#111" stroke-width="1.1"/>
<rect x="378.6" y="55.52" width="3.4" height="3.4" fill="none" stroke="#111" stroke-width="1.1"/>
<rect x="493.85" y="47.85" width="3.9" height="3.9" fill="none" stroke="#222" stroke-width="1.1"/>
<text x="482" y="69.2" font-family="'Liberation Serif','Times New Roman',serif" font-weight="bold" font-size="12" fill="#111">FeGa</text>
<circle cx="495.5" cy="97" r="2.3" fill="none" stroke="#1c1ccf" stroke-width="1.1"/>
<text x="482" y="116.4" font-family="'Liberation Serif','Times New Roman',serif" font-weight="bold" font-size="12" fill="#111">FeGaN</text>
<polygon points="495.5,140.59 492.6,145.61 498.4,145.61" fill="none" stroke="#2f9a2f" stroke-width="1.1"/>
<text x="482" y="163.1" font-family="'Liberation Serif','Times New Roman',serif" font-weight="bold" font-size="12" fill="#111">FeGaB</text>
<text x="278" y="22.5" font-family="'Liberation Serif','Times New Roman',serif" font-weight="bold" font-size="19" fill="#111">(d)</text>
<rect x="273.5" y="206.5" width="207.8" height="163.5" fill="none" stroke="#444" stroke-width="1"/>
<line x1="279.5" y1="370" x2="279.5" y2="365" stroke="#333" stroke-width="0.9"/>
<text x="279.5" y="380.3" text-anchor="middle" font-family="'Liberation Serif','Times New Roman',serif" font-weight="bold" font-size="12.5" fill="#111">15</text>
<line x1="311.52" y1="370" x2="311.52" y2="365" stroke="#333" stroke-width="0.9"/>
<text x="311.52" y="380.3" text-anchor="middle" font-family="'Liberation Serif','Times New Roman',serif" font-weight="bold" font-size="12.5" fill="#111">20</text>
<line x1="343.55" y1="370" x2="343.55" y2="365" stroke="#333" stroke-width="0.9"/>
<text x="343.55" y="380.3" text-anchor="middle" font-family="'Liberation Serif','Times New Roman',serif" font-weight="bold" font-size="12.5" fill="#111">25</text>
<line x1="375.57" y1="370" x2="375.57" y2="365" stroke="#333" stroke-width="0.9"/>
<text x="375.57" y="380.3" text-anchor="middle" font-family="'Liberation Serif','Times New Roman',serif" font-weight="bold" font-size="12.5" fill="#111">30</text>
<line x1="407.6" y1="370" x2="407.6" y2="365" stroke="#333" stroke-width="0.9"/>
<text x="407.6" y="380.3" text-anchor="middle" font-family="'Liberation Serif','Times New Roman',serif" font-weight="bold" font-size="12.5" fill="#111">35</text>
<line x1="439.62" y1="370" x2="439.62" y2="365" stroke="#333" stroke-width="0.9"/>
<text x="439.62" y="380.3" text-anchor="middle" font-family="'Liberation Serif','Times New Roman',serif" font-weight="bold" font-size="12.5" fill="#111">40</text>
<line x1="471.65" y1="370" x2="471.65" y2="365" stroke="#333" stroke-width="0.9"/>
<text x="471.65" y="380.3" text-anchor="middle" font-family="'Liberation Serif','Times New Roman',serif" font-weight="bold" font-size="12.5" fill="#111">45</text>
<line x1="295.51" y1="370" x2="295.51" y2="367" stroke="#333" stroke-width="0.9"/>
<line x1="327.54" y1="370" x2="327.54" y2="367" stroke="#333" stroke-width="0.9"/>
<line x1="359.56" y1="370" x2="359.56" y2="367" stroke="#333" stroke-width="0.9"/>
<line x1="391.59" y1="370" x2="391.59" y2="367" stroke="#333" stroke-width="0.9"/>
<line x1="423.61" y1="370" x2="423.61" y2="367" stroke="#333" stroke-width="0.9"/>
<line x1="455.64" y1="370" x2="455.64" y2="367" stroke="#333" stroke-width="0.9"/>
<line x1="481.3" y1="357.4" x2="475.3" y2="357.4" stroke="#333" stroke-width="0.9"/>
<text x="483" y="361.6" font-family="'Liberation Serif','Times New Roman',serif" font-weight="bold" font-size="12.5" fill="#111">0</text>
<line x1="481.3" y1="325.85" x2="475.3" y2="325.85" stroke="#333" stroke-width="0.9"/>
<text x="483" y="330.05" font-family="'Liberation Serif','Times New Roman',serif" font-weight="bold" font-size="12.5" fill="#111">50</text>
<line x1="481.3" y1="294.3" x2="475.3" y2="294.3" stroke="#333" stroke-width="0.9"/>
<text x="483" y="298.5" font-family="'Liberation Serif','Times New Roman',serif" font-weight="bold" font-size="12.5" fill="#111">100</text>
<line x1="481.3" y1="262.75" x2="475.3" y2="262.75" stroke="#333" stroke-width="0.9"/>
<text x="483" y="266.95" font-family="'Liberation Serif','Times New Roman',serif" font-weight="bold" font-size="12.5" fill="#111">150</text>
<line x1="481.3" y1="231.2" x2="475.3" y2="231.2" stroke="#333" stroke-width="0.9"/>
<text x="483" y="235.4" font-family="'Liberation Serif','Times New Roman',serif" font-weight="bold" font-size="12.5" fill="#111">200</text>
<line x1="481.3" y1="341.62" x2="478.3" y2="341.62" stroke="#333" stroke-width="0.9"/>
<line x1="481.3" y1="310.07" x2="478.3" y2="310.07" stroke="#333" stroke-width="0.9"/>
<line x1="481.3" y1="278.52" x2="478.3" y2="278.52" stroke="#333" stroke-width="0.9"/>
<line x1="481.3" y1="246.97" x2="478.3" y2="246.97" stroke="#333" stroke-width="0.9"/>
<line x1="481.3" y1="215.42" x2="478.3" y2="215.42" stroke="#333" stroke-width="0.9"/>
<text x="320.3" y="395" font-family="'Liberation Serif','Times New Roman',serif" font-weight="bold" font-size="16" fill="#111">Oblique angle (<tspan font-size="8" dy="-7">o</tspan><tspan dy="7">)</tspan></text>
<text transform="translate(514,307.4) rotate(-90)" font-family="'Liberation Serif','Times New Roman',serif" font-weight="bold" font-size="16.6" fill="#111"><tspan font-style="italic">H</tspan><tspan font-size="10" dy="3.6">c</tspan><tspan dy="-3.6" dx="-1.2"> (Oe)</tspan></text>
<polyline fill="none" stroke="#333" stroke-width="1.3"  points="285.9,259.34 343.55,251.58 394.79,247.1 433.22,224.57 471.65,218.01"/>
<polyline fill="none" stroke="#222" stroke-width="1.3"  points="285.9,261.99 343.55,251.9 394.79,249.5 433.22,251.52 471.65,266.54"/>
<polyline fill="none" stroke="#1c1ccf" stroke-width="1.3"  points="285.9,309.13 343.55,293.98 394.79,293.29 433.22,273.6 471.65,273.6"/>
<polyline fill="none" stroke="#1c1ccf" stroke-width="1.3"  points="285.9,311.08 343.55,308.69 394.79,317.08 433.22,332.41 471.65,340.99"/>
<polyline fill="none" stroke="#3a9a3a" stroke-width="1.3"  points="285.9,346.67 343.55,348.69 394.79,345.73 433.22,340.99 471.65,336.2"/>
<polyline fill="none" stroke="#3a9a3a" stroke-width="1.3"  points="285.9,354.5 343.55,354.5 394.79,353.8 433.22,353.8 471.65,349.83"/>
<rect x="283.9" y="257.34" width="4" height="4" fill="#fff" stroke="#222" stroke-width="0.9"/>
<rect x="341.55" y="249.58" width="4" height="4" fill="#fff" stroke="#222" stroke-width="0.9"/>
<rect x="392.79" y="245.1" width="4" height="4" fill="#fff" stroke="#222" stroke-width="0.9"/>
<rect x="431.22" y="222.57" width="4" height="4" fill="#fff" stroke="#222" stroke-width="0.9"/>
<rect x="469.65" y="216.01" width="4" height="4" fill="#fff" stroke="#222" stroke-width="0.9"/>
<rect x="284.3" y="260.39" width="3.2" height="3.2" fill="#111" stroke="#111" stroke-width="0.8"/>
<rect x="341.95" y="250.3" width="3.2" height="3.2" fill="#111" stroke="#111" stroke-width="0.8"/>
<rect x="393.19" y="247.9" width="3.2" height="3.2" fill="#111" stroke="#111" stroke-width="0.8"/>
<rect x="431.62" y="249.92" width="3.2" height="3.2" fill="#111" stroke="#111" stroke-width="0.8"/>
<rect x="470.05" y="264.94" width="3.2" height="3.2" fill="#111" stroke="#111" stroke-width="0.8"/>
<circle cx="285.9" cy="309.13" r="2.4" fill="#fff" stroke="#1c1ccf" stroke-width="1.0"/>
<circle cx="343.55" cy="293.98" r="2.4" fill="#fff" stroke="#1c1ccf" stroke-width="1.0"/>
<circle cx="394.79" cy="293.29" r="2.4" fill="#fff" stroke="#1c1ccf" stroke-width="1.0"/>
<circle cx="433.22" cy="273.6" r="2.4" fill="#fff" stroke="#1c1ccf" stroke-width="1.0"/>
<circle cx="471.65" cy="273.6" r="2.4" fill="#fff" stroke="#1c1ccf" stroke-width="1.0"/>
<circle cx="285.9" cy="311.08" r="2.3" fill="#1c1ccf" stroke="#1c1ccf" stroke-width="0.5"/>
<circle cx="343.55" cy="308.69" r="2.3" fill="#1c1ccf" stroke="#1c1ccf" stroke-width="0.5"/>
<circle cx="394.79" cy="317.08" r="2.3" fill="#1c1ccf" stroke="#1c1ccf" stroke-width="0.5"/>
<circle cx="433.22" cy="332.41" r="2.3" fill="#1c1ccf" stroke="#1c1ccf" stroke-width="0.5"/>
<circle cx="471.65" cy="340.99" r="2.3" fill="#1c1ccf" stroke="#1c1ccf" stroke-width="0.5"/>
<polygon points="285.9,343.67 283.1,348.52 288.7,348.52" fill="#fff" stroke="#2f9a2f" stroke-width="1.0"/>
<polygon points="343.55,345.69 340.75,350.54 346.35,350.54" fill="#fff" stroke="#2f9a2f" stroke-width="1.0"/>
<polygon points="394.79,342.72 391.99,347.57 397.59,347.57" fill="#fff" stroke="#2f9a2f" stroke-width="1.0"/>
<polygon points="433.22,337.99 430.42,342.84 436.02,342.84" fill="#fff" stroke="#2f9a2f" stroke-width="1.0"/>
<polygon points="471.65,333.19 468.85,338.04 474.45,338.04" fill="#fff" stroke="#2f9a2f" stroke-width="1.0"/>
<polygon points="285.9,351.71 283.3,356.21 288.5,356.21" fill="#2f9a2f" stroke="#2f9a2f" stroke-width="0.6"/>
<polygon points="343.55,351.71 340.95,356.21 346.15,356.21" fill="#2f9a2f" stroke="#2f9a2f" stroke-width="0.6"/>
<polygon points="394.79,351.01 392.19,355.51 397.39,355.51" fill="#2f9a2f" stroke="#2f9a2f" stroke-width="0.6"/>
<polygon points="433.22,351.01 430.62,355.51 435.82,355.51" fill="#2f9a2f" stroke="#2f9a2f" stroke-width="0.6"/>
<polygon points="471.65,347.04 469.05,351.54 474.25,351.54" fill="#2f9a2f" stroke="#2f9a2f" stroke-width="0.6"/>
<line x1="309.3" y1="212.9" x2="331.8" y2="212.9" stroke="#333" stroke-width="1.3"/><rect x="318.9" y="210.9" width="4" height="4" fill="#fff" stroke="#222" stroke-width="1.0"/><text x="335.2" y="216.4" font-family="'Liberation Serif','Times New Roman',serif" font-weight="bold" font-size="10.3" fill="#111" textLength="15.3" lengthAdjust="spacingAndGlyphs">EA,</text><line x1="352" y1="212.9" x2="374.2" y2="212.9" stroke="#333" stroke-width="1.3"/><rect x="361.9" y="211" width="3.8" height="3.8" fill="#111" stroke="#111" stroke-width="0.9"/><text x="377.6" y="216.4" font-family="'Liberation Serif','Times New Roman',serif" font-weight="bold" font-size="10.3" fill="#111" textLength="13.6" lengthAdjust="spacingAndGlyphs">HA</text>
<line x1="309.3" y1="225.7" x2="331.8" y2="225.7" stroke="#1c1ccf" stroke-width="1.3"/><circle cx="320.9" cy="225.7" r="2.1" fill="#fff" stroke="#1c1ccf" stroke-width="1.0"/><text x="335.2" y="229.2" font-family="'Liberation Serif','Times New Roman',serif" font-weight="bold" font-size="10.3" fill="#111" textLength="15.3" lengthAdjust="spacingAndGlyphs">EA,</text><line x1="352" y1="225.7" x2="374.2" y2="225.7" stroke="#1c1ccf" stroke-width="1.3"/><circle cx="363.8" cy="225.7" r="2.1" fill="#1c1ccf" stroke="#1c1ccf" stroke-width="0.5"/><text x="377.6" y="229.2" font-family="'Liberation Serif','Times New Roman',serif" font-weight="bold" font-size="10.3" fill="#111" textLength="13.6" lengthAdjust="spacingAndGlyphs">HA</text>
<line x1="309.3" y1="237.5" x2="331.8" y2="237.5" stroke="#3a9a3a" stroke-width="1.3"/><polygon points="320.9,234.82 318.4,239.15 323.4,239.15" fill="#fff" stroke="#2f9a2f" stroke-width="1.0"/><text x="335.2" y="241" font-family="'Liberation Serif','Times New Roman',serif" font-weight="bold" font-size="10.3" fill="#111" textLength="15.3" lengthAdjust="spacingAndGlyphs">EA,</text><line x1="352" y1="237.5" x2="374.2" y2="237.5" stroke="#3a9a3a" stroke-width="1.3"/><polygon points="363.8,234.82 361.3,239.15 366.3,239.15" fill="#2f9a2f" stroke="#2f9a2f" stroke-width="0.6"/><text x="377.6" y="241" font-family="'Liberation Serif','Times New Roman',serif" font-weight="bold" font-size="10.3" fill="#111" textLength="13.6" lengthAdjust="spacingAndGlyphs">HA</text>
<text x="277" y="223.5" font-family="'Liberation Serif','Times New Roman',serif" font-weight="bold" font-size="19" fill="#111">(e)</text>
<text x="278.5" y="253.6" font-family="'Liberation Serif','Times New Roman',serif" font-weight="bold" font-size="12.8" fill="#111">FeGa</text>
<text x="278.4" y="296" font-family="'Liberation Serif','Times New Roman',serif" font-weight="bold" font-size="12.8" fill="#1616a6" stroke="#1616a6">FeGaN</text>
<text x="278.4" y="340.7" font-family="'Liberation Serif','Times New Roman',serif" font-weight="bold" font-size="12.8" fill="#1d6e1d" stroke="#1d6e1d">FeGaB</text>
<line x1="419" y1="235.1" x2="435.6" y2="235.1" stroke="#111" stroke-width="1.0"/><polygon points="440.1,235.1 435.6,237.3 435.6,232.9" fill="#111"/>
<text x="443.1" y="241.1" font-family="'Liberation Serif','Times New Roman',serif" font-weight="bold" font-size="13.2" fill="#111" stroke="#111"><tspan font-style="italic">H</tspan><tspan font-size="8" dy="4.3" dx="-0.2">ce</tspan></text>
<line x1="418.1" y1="252.7" x2="405.04" y2="259.12" stroke="#111" stroke-width="1.0"/><polygon points="401,261.1 404.07,257.14 406.01,261.09" fill="#111"/>
<text x="386" y="268.7" font-family="'Liberation Serif','Times New Roman',serif" font-weight="bold" font-size="13.2" fill="#111" stroke="#111"><tspan font-style="italic">H</tspan><tspan font-size="8" dy="4.3" dx="-0.2">ch</tspan></text>
<line x1="421.2" y1="283.1" x2="436.91" y2="284.03" stroke="#1c1ccf" stroke-width="1.0"/><polygon points="441.4,284.3 436.78,286.23 437.04,281.84" fill="#1c1ccf"/>
<text x="443.8" y="290.2" font-family="'Liberation Serif','Times New Roman',serif" font-weight="bold" font-size="13.2" fill="#1c1ccf" stroke="#1c1ccf"><tspan font-style="italic">H</tspan><tspan font-size="8" dy="4.3" dx="-0.2">ce</tspan></text>
<line x1="411.7" y1="321.2" x2="423.02" y2="315.91" stroke="#1c1ccf" stroke-width="1.0"/><polygon points="427.1,314 423.96,317.9 422.09,313.91" fill="#1c1ccf"/>
<text x="429.5" y="317.6" font-family="'Liberation Serif','Times New Roman',serif" font-weight="bold" font-size="13.2" fill="#1c1ccf" stroke="#1c1ccf"><tspan font-style="italic">H</tspan><tspan font-size="8" dy="4.3" dx="-0.2">ch</tspan></text>
<line x1="353.4" y1="346.3" x2="357.43" y2="339.82" stroke="#1d6e1d" stroke-width="1.0"/><polygon points="359.8,336 359.29,340.98 355.56,338.66" fill="#1d6e1d"/>
<text x="358.5" y="333.4" font-family="'Liberation Serif','Times New Roman',serif" font-weight="bold" font-size="13.2" fill="#1d6e1d" stroke="#1d6e1d"><tspan font-style="italic">H</tspan><tspan font-size="8" dy="4.3" dx="-0.2">ce</tspan></text>
<line x1="380.2" y1="353.3" x2="388.45" y2="340.58" stroke="#1d6e1d" stroke-width="1.0"/><polygon points="390.9,336.8 390.3,341.77 386.61,339.38" fill="#1d6e1d"/>
<text x="391.4" y="333.4" font-family="'Liberation Serif','Times New Roman',serif" font-weight="bold" font-size="13.2" fill="#1d6e1d" stroke="#1d6e1d"><tspan font-style="italic">H</tspan><tspan font-size="8" dy="4.3" dx="-0.2">ch</tspan></text>
</svg>
</body></html>
